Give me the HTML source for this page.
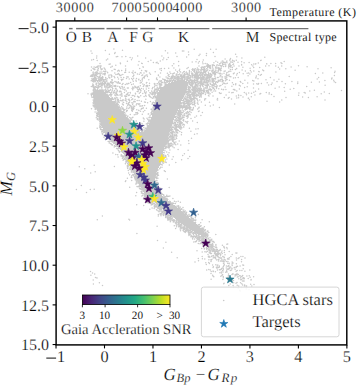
<!DOCTYPE html>
<html><head><meta charset="utf-8"><style>
html,body{margin:0;padding:0;background:#fff;}
svg{display:block;}
text{font-family:"Liberation Serif",serif;fill:#000;stroke:#fff;stroke-width:0.22px;text-rendering:geometricPrecision;}
.sm,.sm text{stroke:none;fill:#1a1a1a;}
</style></head><body>
<svg width="357" height="385" viewBox="0 0 357 385">
<rect width="357" height="385" fill="#fff"/>
<path d="M179 80h6v1h-6zM174 81h13v1h-13zM171 82h17v1h-17zM168 83h20v1h-20zM166 84h22v1h-22zM165 85h23v1h-23zM164 86h23v1h-23zM162 87h25v1h-25zM161 88h26v1h-26zM160 89h27v1h-27zM96 90h7v1h-7zM160 90h26v1h-26zM94 91h10v1h-10zM159 91h27v1h-27zM93 92h12v1h-12zM158 92h27v1h-27zM93 93h13v1h-13zM158 93h27v1h-27zM93 94h14v1h-14zM157 94h27v1h-27zM93 95h15v1h-15zM157 95h27v1h-27zM93 96h16v1h-16zM157 96h27v1h-27zM93 97h17v1h-17zM156 97h27v1h-27zM94 98h17v1h-17zM156 98h27v1h-27zM94 99h18v1h-18zM156 99h26v1h-26zM94 100h18v1h-18zM156 100h26v1h-26zM94 101h19v1h-19zM155 101h26v1h-26zM94 102h20v1h-20zM155 102h26v1h-26zM95 103h20v1h-20zM155 103h25v1h-25zM95 104h21v1h-21zM155 104h25v1h-25zM95 105h22v1h-22zM154 105h26v1h-26zM96 106h22v1h-22zM154 106h25v1h-25zM96 107h23v1h-23zM154 107h25v1h-25zM97 108h22v1h-22zM154 108h24v1h-24zM97 109h23v1h-23zM153 109h25v1h-25zM97 110h24v1h-24zM153 110h24v1h-24zM98 111h24v1h-24zM153 111h24v1h-24zM98 112h25v1h-25zM153 112h24v1h-24zM98 113h26v1h-26zM152 113h24v1h-24zM98 114h27v1h-27zM152 114h24v1h-24zM99 115h27v1h-27zM152 115h23v1h-23zM99 116h27v1h-27zM152 116h23v1h-23zM99 117h28v1h-28zM151 117h24v1h-24zM99 118h29v1h-29zM151 118h23v1h-23zM100 119h29v1h-29zM151 119h23v1h-23zM100 120h30v1h-30zM150 120h23v1h-23zM100 121h31v1h-31zM150 121h23v1h-23zM101 122h31v1h-31zM150 122h23v1h-23zM101 123h32v1h-32zM149 123h23v1h-23zM101 124h33v1h-33zM149 124h23v1h-23zM101 125h34v1h-34zM148 125h23v1h-23zM102 126h34v1h-34zM148 126h23v1h-23zM102 127h34v1h-34zM147 127h24v1h-24zM103 128h34v1h-34zM147 128h23v1h-23zM103 129h35v1h-35zM146 129h24v1h-24zM103 130h36v1h-36zM145 130h25v1h-25zM104 131h36v1h-36zM144 131h26v1h-26zM104 132h65v1h-65zM105 133h64v1h-64zM105 134h64v1h-64zM106 135h63v1h-63zM107 136h61v1h-61zM108 137h60v1h-60zM109 138h59v1h-59zM110 139h58v1h-58zM111 140h56v1h-56zM112 141h55v1h-55zM113 142h54v1h-54zM114 143h52v1h-52zM115 144h51v1h-51zM116 145h49v1h-49zM117 146h48v1h-48zM118 147h46v1h-46zM119 148h45v1h-45zM120 149h44v1h-44zM121 150h43v1h-43zM122 151h41v1h-41zM122 152h41v1h-41zM123 153h40v1h-40zM124 154h39v1h-39zM125 155h38v1h-38zM125 156h38v1h-38zM126 157h36v1h-36zM126 158h36v1h-36zM127 159h35v1h-35zM127 160h35v1h-35zM128 161h33v1h-33zM128 162h33v1h-33zM129 163h31v1h-31zM129 164h31v1h-31zM130 165h30v1h-30zM130 166h29v1h-29zM131 167h28v1h-28zM131 168h27v1h-27zM132 169h26v1h-26zM132 170h25v1h-25zM133 171h24v1h-24zM133 172h23v1h-23zM134 173h22v1h-22zM134 174h22v1h-22zM135 175h20v1h-20zM135 176h20v1h-20zM136 177h19v1h-19zM136 178h19v1h-19zM137 179h18v1h-18zM137 180h18v1h-18zM138 181h17v1h-17zM138 182h17v1h-17zM139 183h16v1h-16zM139 184h16v1h-16zM140 185h16v1h-16zM140 186h16v1h-16zM141 187h15v1h-15zM142 188h15v1h-15zM142 189h15v1h-15zM143 190h15v1h-15zM143 191h16v1h-16zM144 192h16v1h-16zM145 193h15v1h-15zM145 194h16v1h-16zM146 195h16v1h-16zM147 196h16v1h-16zM148 197h16v1h-16zM149 198h16v1h-16zM151 199h16v1h-16zM152 200h16v1h-16zM154 201h15v1h-15zM155 202h16v1h-16zM156 203h16v1h-16zM158 204h15v1h-15zM159 205h16v1h-16zM160 206h16v1h-16zM161 207h16v1h-16zM162 208h16v1h-16zM164 209h15v1h-15zM165 210h16v1h-16zM166 211h16v1h-16zM167 212h16v1h-16zM169 213h15v1h-15zM170 214h15v1h-15zM171 215h15v1h-15zM173 216h15v1h-15zM174 217h15v1h-15zM175 218h15v1h-15zM177 219h14v1h-14zM178 220h14v1h-14zM179 221h14v1h-14zM180 222h15v1h-15zM182 223h14v1h-14zM183 224h14v1h-14zM184 225h14v1h-14zM186 226h13v1h-13zM187 227h13v1h-13zM189 228h12v1h-12zM191 229h11v1h-11zM192 230h11v1h-11zM194 231h10v1h-10zM195 232h9v1h-9zM197 233h8v1h-8zM199 234h7v1h-7zM201 235h5v1h-5zM203 236h3v1h-3z" fill="#c9c9c9"/>
<path d="M113.9 49.1h0M194.2 49.2h0M210.6 49.3h0M216.1 49.2h0M91.0 51.0h0M105.4 50.6h0M122.5 50.2h0M165.4 50.8h0M182.4 50.9h0M183.8 51.1h0M115.1 52.4h0M175.7 52.9h0M188.5 52.1h0M213.4 52.5h0M92.0 53.2h0M114.7 53.5h0M167.7 53.1h0M206.5 53.4h0M109.4 54.2h0M188.7 54.8h0M200.0 54.2h0M235.6 54.3h0M137.7 55.9h0M161.9 55.9h0M199.0 55.6h0M206.4 55.4h0M96.8 56.1h0M116.3 56.8h0M117.7 56.4h0M122.0 56.7h0M125.8 56.5h0M177.0 56.5h0M186.6 57.0h0M215.0 56.6h0M236.8 56.7h0M130.1 57.4h0M168.3 57.6h0M264.8 57.3h0M96.6 58.0h0M132.3 58.1h0M145.6 58.1h0M163.7 58.1h0M230.5 58.6h0M241.9 58.1h0M93.5 59.4h0M107.7 59.0h0M131.5 59.8h0M162.9 59.8h0M166.8 59.4h0M197.0 59.4h0M203.3 59.9h0M225.1 59.0h0M230.1 59.5h0M91.7 60.1h0M97.2 60.5h0M106.4 60.1h0M150.9 60.3h0M160.3 61.0h0M229.9 60.3h0M232.5 60.3h0M232.7 60.5h0M234.1 60.9h0M236.3 60.2h0M260.7 60.5h0M261.1 60.2h0M127.4 61.2h0M139.0 61.6h0M148.2 61.5h0M178.6 61.4h0M196.0 61.7h0M199.3 61.4h0M215.9 61.2h0M222.3 61.1h0M223.1 61.2h0M226.5 61.9h0M226.9 61.1h0M234.2 61.4h0M241.6 61.7h0M284.2 61.4h0M120.3 62.9h0M153.4 62.5h0M156.2 62.8h0M157.1 62.3h0M192.2 62.0h0M202.6 62.1h0M213.9 62.7h0M217.7 62.3h0M221.1 62.3h0M223.6 62.7h0M223.1 62.5h0M224.4 62.6h0M225.0 62.6h0M227.0 62.7h0M230.4 62.0h0M231.2 62.1h0M232.6 62.3h0M238.0 62.3h0M244.1 62.8h0M249.1 62.6h0M281.0 62.8h0M100.0 63.6h0M110.2 64.0h0M120.5 63.7h0M141.7 63.3h0M142.2 63.4h0M158.2 63.5h0M173.8 63.7h0M198.4 63.1h0M203.0 63.8h0M205.2 63.5h0M207.1 63.7h0M219.4 63.9h0M220.2 63.5h0M222.3 63.6h0M225.3 63.1h0M229.5 63.7h0M233.5 63.9h0M253.8 63.9h0M255.5 64.0h0M255.8 63.7h0M258.3 63.1h0M266.7 63.8h0M266.8 64.0h0M270.9 63.5h0M275.6 63.4h0M281.9 63.4h0M109.1 64.2h0M207.3 64.7h0M208.5 64.7h0M212.2 65.0h0M213.1 64.8h0M217.1 64.7h0M222.7 64.5h0M224.1 64.5h0M225.7 64.8h0M228.9 64.4h0M230.1 64.1h0M232.9 64.6h0M241.6 64.5h0M241.6 64.9h0M251.6 64.8h0M115.8 65.2h0M138.2 65.0h0M172.3 65.8h0M178.7 65.7h0M206.5 66.0h0M208.1 65.7h0M209.2 65.8h0M210.3 65.6h0M212.5 65.4h0M213.0 65.4h0M214.4 65.6h0M216.8 65.8h0M217.0 65.7h0M218.8 65.6h0M220.3 65.6h0M222.1 65.7h0M225.8 65.9h0M228.8 65.6h0M230.3 65.3h0M231.2 65.7h0M239.0 65.9h0M252.9 65.9h0M265.6 65.9h0M269.0 65.7h0M298.5 65.8h0M94.1 66.9h0M96.6 67.0h0M97.6 66.2h0M98.6 66.1h0M100.0 66.0h0M100.3 66.1h0M101.1 66.0h0M112.2 66.2h0M112.2 66.6h0M125.5 66.1h0M143.0 66.8h0M199.0 66.1h0M202.6 67.0h0M204.2 66.8h0M205.1 66.7h0M206.5 66.1h0M207.2 66.5h0M207.8 66.5h0M209.7 66.7h0M209.2 66.8h0M215.8 66.9h0M221.4 66.1h0M223.6 66.5h0M225.6 66.6h0M228.6 66.8h0M229.7 66.3h0M230.1 66.6h0M234.0 66.1h0M275.7 66.1h0M281.7 66.1h0M307.1 66.8h0M91.5 67.0h0M95.6 67.5h0M97.2 67.1h0M98.2 68.0h0M100.4 67.6h0M104.1 67.9h0M110.8 67.2h0M143.2 67.2h0M188.2 67.4h0M197.4 68.0h0M201.2 67.4h0M201.8 67.2h0M201.8 67.3h0M203.6 67.3h0M203.5 67.8h0M205.1 67.1h0M207.7 67.7h0M208.0 67.1h0M209.6 67.6h0M210.6 67.0h0M212.5 67.1h0M216.9 68.0h0M216.4 67.9h0M218.1 67.8h0M221.2 67.1h0M228.8 68.0h0M230.6 67.1h0M232.2 67.5h0M232.4 67.5h0M242.9 67.3h0M253.7 67.6h0M259.7 67.6h0M278.4 67.2h0M291.1 67.1h0M331.1 67.7h0M93.0 68.6h0M94.2 69.0h0M98.3 68.4h0M98.3 68.5h0M101.0 68.7h0M102.3 68.9h0M125.7 68.9h0M139.7 68.6h0M161.3 68.4h0M164.5 68.5h0M168.7 68.3h0M173.9 68.0h0M187.0 68.6h0M192.8 68.8h0M195.3 68.7h0M201.5 68.5h0M204.2 68.5h0M204.5 68.6h0M206.6 68.8h0M209.7 68.1h0M210.6 68.6h0M213.0 68.3h0M215.5 68.1h0M218.9 68.1h0M218.5 68.9h0M218.7 68.2h0M219.5 68.6h0M219.6 68.5h0M219.7 68.2h0M221.2 68.4h0M236.7 68.7h0M236.6 68.4h0M250.1 68.3h0M279.6 69.0h0M285.8 68.8h0M318.0 68.7h0M94.1 69.4h0M94.9 69.4h0M97.4 69.9h0M101.2 69.8h0M104.9 69.1h0M105.2 69.7h0M114.2 69.3h0M115.2 69.4h0M159.9 69.1h0M175.6 70.0h0M179.7 69.2h0M192.1 69.6h0M194.5 69.4h0M194.0 69.4h0M197.0 69.4h0M198.5 69.3h0M200.1 69.8h0M201.7 69.3h0M201.6 69.4h0M202.6 69.6h0M203.7 69.6h0M205.0 69.4h0M205.0 69.6h0M213.6 69.9h0M219.6 69.4h0M220.7 69.3h0M230.4 69.6h0M232.3 69.6h0M235.4 69.4h0M242.1 69.9h0M262.7 69.9h0M91.3 70.3h0M97.9 70.4h0M98.0 70.1h0M112.0 70.8h0M117.6 70.9h0M118.7 70.2h0M121.7 70.6h0M125.6 70.6h0M141.6 70.6h0M145.3 70.7h0M161.3 70.6h0M179.3 70.4h0M189.4 70.5h0M192.6 70.2h0M194.7 70.4h0M194.1 70.7h0M194.7 70.2h0M198.1 70.2h0M201.0 70.4h0M203.4 70.1h0M204.2 70.4h0M206.7 71.0h0M206.5 70.7h0M206.6 71.0h0M206.1 70.5h0M207.7 70.1h0M207.8 70.0h0M209.8 70.6h0M211.7 71.0h0M211.7 71.0h0M212.3 70.0h0M212.6 70.6h0M215.9 70.5h0M215.8 70.1h0M218.6 70.5h0M218.2 70.6h0M220.6 70.7h0M220.6 70.3h0M221.0 70.5h0M245.4 70.9h0M250.4 70.6h0M263.7 70.7h0M295.1 70.2h0M96.3 72.0h0M96.8 72.0h0M103.7 71.2h0M104.9 71.8h0M105.9 71.2h0M105.3 71.8h0M119.4 71.1h0M133.1 71.0h0M146.4 71.8h0M146.7 71.0h0M155.2 71.8h0M169.9 72.0h0M177.2 71.4h0M180.5 71.9h0M180.1 71.8h0M183.6 71.9h0M184.3 71.6h0M186.4 71.9h0M189.5 71.4h0M193.9 71.4h0M196.9 71.4h0M196.4 71.1h0M198.9 71.5h0M199.1 71.8h0M201.1 71.3h0M203.9 71.2h0M204.1 71.2h0M204.5 72.0h0M204.9 71.5h0M205.5 71.4h0M205.6 71.9h0M206.6 71.1h0M212.2 72.0h0M214.7 71.6h0M215.8 71.0h0M218.1 71.5h0M224.1 71.2h0M225.2 71.1h0M228.6 71.7h0M229.2 71.2h0M230.8 71.3h0M253.8 71.1h0M258.8 71.4h0M259.2 71.7h0M335.0 71.2h0M92.9 72.9h0M93.2 72.1h0M95.2 72.4h0M95.2 72.9h0M96.1 72.5h0M97.6 72.3h0M100.1 72.1h0M101.9 72.1h0M107.7 72.7h0M107.5 72.3h0M114.8 72.9h0M124.8 72.5h0M125.6 72.2h0M129.2 72.3h0M132.1 72.4h0M135.0 72.6h0M135.4 72.5h0M140.4 72.8h0M144.0 72.9h0M149.5 72.9h0M177.7 72.3h0M186.1 72.5h0M189.3 72.7h0M191.4 72.1h0M194.7 72.2h0M194.8 72.3h0M197.0 72.4h0M196.4 72.0h0M197.1 72.9h0M197.2 72.3h0M197.6 72.9h0M198.7 72.5h0M200.5 72.2h0M200.7 72.9h0M200.3 72.8h0M201.5 72.6h0M202.4 72.9h0M204.0 72.6h0M203.4 72.1h0M203.6 73.0h0M204.0 72.2h0M205.5 73.0h0M205.5 72.7h0M208.4 72.3h0M213.4 72.0h0M213.3 72.9h0M213.1 72.2h0M213.2 72.8h0M214.4 72.5h0M214.8 73.0h0M216.4 72.6h0M217.8 72.7h0M227.1 72.6h0M239.4 72.4h0M251.2 72.0h0M275.9 72.1h0M322.8 72.9h0M334.6 72.4h0M93.7 73.3h0M96.7 73.5h0M98.1 73.6h0M99.2 73.4h0M101.1 73.4h0M104.3 73.5h0M105.3 73.4h0M118.5 73.5h0M133.1 73.2h0M137.4 73.9h0M141.1 73.1h0M160.5 73.0h0M167.4 73.2h0M170.8 73.6h0M172.6 73.9h0M173.5 73.6h0M174.4 73.1h0M182.4 73.1h0M184.4 73.4h0M186.6 73.9h0M187.6 73.2h0M189.3 74.0h0M191.6 73.8h0M192.6 73.2h0M192.7 73.5h0M195.4 73.5h0M196.5 73.2h0M196.2 73.3h0M196.7 73.4h0M197.7 73.3h0M197.6 73.6h0M200.4 73.1h0M200.6 73.8h0M200.9 73.9h0M200.2 73.7h0M202.4 73.2h0M208.8 73.7h0M208.6 73.7h0M210.3 73.5h0M210.9 73.9h0M212.9 73.5h0M213.8 73.4h0M213.7 73.2h0M215.5 73.0h0M219.2 73.4h0M219.4 73.6h0M220.5 73.2h0M222.0 73.9h0M224.0 73.3h0M226.6 73.0h0M233.4 73.7h0M234.2 73.1h0M237.3 73.6h0M243.2 73.7h0M247.1 73.2h0M248.6 73.1h0M315.4 73.4h0M92.3 74.8h0M93.5 74.5h0M95.8 74.7h0M95.3 74.9h0M95.2 74.4h0M95.4 74.6h0M97.0 74.4h0M100.2 74.2h0M102.8 74.1h0M103.3 74.0h0M105.0 74.8h0M104.6 74.7h0M104.8 74.7h0M109.1 75.0h0M111.0 74.7h0M115.9 74.4h0M117.4 74.2h0M119.4 74.4h0M119.1 74.6h0M122.8 74.6h0M133.8 75.0h0M139.3 74.2h0M146.3 75.0h0M150.5 74.2h0M158.4 75.0h0M168.4 74.9h0M168.9 74.4h0M177.0 74.1h0M176.2 74.2h0M178.5 74.8h0M179.6 74.1h0M181.9 74.8h0M184.1 74.6h0M185.3 74.3h0M187.0 74.8h0M187.7 74.4h0M188.1 74.9h0M192.5 74.2h0M192.2 74.7h0M193.3 75.0h0M195.0 74.5h0M196.8 74.4h0M196.2 74.2h0M197.5 74.9h0M199.2 74.8h0M199.7 74.3h0M200.1 74.3h0M201.7 75.0h0M202.8 74.3h0M204.9 74.8h0M204.3 74.5h0M205.7 74.9h0M206.1 74.0h0M206.4 74.5h0M207.1 74.7h0M207.8 75.0h0M208.3 74.5h0M208.0 75.0h0M209.8 74.9h0M209.3 75.0h0M210.4 74.7h0M210.1 74.8h0M210.9 74.3h0M211.2 74.6h0M211.8 74.7h0M214.8 74.9h0M214.5 74.6h0M214.8 74.1h0M215.5 74.5h0M220.2 74.9h0M226.3 74.6h0M229.0 74.6h0M236.6 75.0h0M249.9 74.1h0M258.4 74.4h0M261.4 74.4h0M91.3 75.2h0M93.1 75.1h0M94.0 75.1h0M94.4 75.6h0M95.3 75.6h0M96.3 75.6h0M100.5 75.8h0M111.3 75.5h0M112.0 76.0h0M120.6 75.4h0M120.0 75.4h0M121.2 75.1h0M133.7 75.5h0M141.9 75.6h0M142.7 75.1h0M145.1 75.9h0M145.0 75.9h0M147.1 75.1h0M158.4 75.4h0M168.2 75.7h0M172.1 75.9h0M173.1 75.4h0M177.0 75.3h0M180.6 75.0h0M180.4 76.0h0M182.2 76.0h0M183.7 75.2h0M184.9 75.2h0M188.1 75.3h0M188.0 75.1h0M189.2 75.1h0M190.0 75.7h0M190.8 75.7h0M192.8 75.1h0M192.4 75.5h0M192.6 75.8h0M194.1 75.5h0M194.4 75.0h0M195.4 75.6h0M195.7 75.0h0M196.2 75.8h0M197.4 75.9h0M197.1 75.6h0M198.7 75.8h0M198.9 75.5h0M199.0 75.0h0M200.4 75.6h0M202.5 75.7h0M204.4 75.4h0M206.9 75.9h0M207.7 75.4h0M207.6 75.4h0M208.1 75.8h0M209.4 75.5h0M209.1 75.1h0M211.8 75.4h0M220.7 75.6h0M226.5 75.8h0M227.6 75.2h0M228.8 75.7h0M248.1 75.7h0M256.4 76.0h0M260.3 75.3h0M334.4 75.5h0M90.5 76.3h0M91.8 76.5h0M92.4 76.0h0M92.5 76.4h0M93.0 76.4h0M93.0 76.4h0M94.8 76.2h0M96.7 76.1h0M97.7 76.7h0M99.7 77.0h0M99.6 76.2h0M99.4 76.4h0M102.5 76.6h0M108.8 76.1h0M114.1 76.5h0M127.0 76.8h0M127.0 77.0h0M132.9 76.6h0M144.5 76.6h0M147.4 76.6h0M166.1 77.0h0M169.3 76.5h0M171.3 76.8h0M174.0 76.8h0M174.7 76.6h0M175.9 76.0h0M177.3 76.6h0M178.3 76.4h0M180.0 76.3h0M181.1 77.0h0M181.6 76.2h0M181.3 76.2h0M182.9 76.8h0M183.3 76.0h0M183.1 76.9h0M184.3 76.6h0M185.0 76.9h0M185.8 77.0h0M186.9 76.8h0M186.9 76.7h0M188.0 76.4h0M187.9 76.5h0M188.8 76.9h0M190.9 76.5h0M192.5 76.4h0M194.8 76.4h0M195.4 76.8h0M196.1 76.8h0M197.1 76.6h0M197.3 76.5h0M198.3 76.2h0M198.6 76.3h0M200.6 76.2h0M202.8 76.6h0M202.0 76.9h0M203.8 76.5h0M203.1 76.2h0M205.9 76.0h0M208.1 76.9h0M208.4 77.0h0M209.4 76.0h0M210.6 76.6h0M210.5 76.2h0M211.2 76.7h0M214.9 76.3h0M220.0 76.7h0M222.0 76.7h0M221.9 76.9h0M225.1 76.5h0M230.9 76.7h0M230.0 76.6h0M289.2 76.6h0M94.7 77.1h0M94.4 77.4h0M95.9 77.8h0M95.4 77.6h0M98.7 77.2h0M99.9 78.0h0M100.5 77.9h0M102.0 77.9h0M103.0 77.2h0M105.7 77.5h0M109.0 77.4h0M111.5 77.0h0M114.8 77.8h0M117.7 77.3h0M121.1 77.5h0M123.7 77.6h0M128.2 77.1h0M143.6 77.6h0M144.4 77.9h0M156.7 77.9h0M159.9 77.1h0M172.8 77.9h0M172.3 77.0h0M173.1 77.0h0M174.5 77.3h0M175.5 77.7h0M176.8 77.5h0M178.4 77.8h0M179.2 77.5h0M182.1 77.4h0M183.3 77.6h0M183.0 77.8h0M183.7 77.4h0M184.6 77.3h0M184.6 77.0h0M184.2 77.8h0M187.7 77.1h0M190.8 77.2h0M192.3 77.8h0M194.0 77.2h0M195.2 77.8h0M196.2 77.1h0M196.5 77.4h0M197.6 77.3h0M198.2 77.1h0M198.4 77.8h0M198.9 77.5h0M199.9 77.5h0M199.7 77.7h0M200.7 77.9h0M201.0 78.0h0M201.6 77.4h0M202.1 77.1h0M202.3 77.9h0M203.5 77.3h0M204.2 77.0h0M204.8 77.9h0M206.5 77.7h0M207.3 77.7h0M207.5 77.1h0M208.1 77.2h0M209.4 77.3h0M210.7 77.7h0M211.1 77.1h0M215.6 77.9h0M217.5 77.6h0M218.2 77.4h0M222.5 77.1h0M225.0 77.9h0M226.0 78.0h0M226.9 77.1h0M235.4 77.7h0M238.2 77.6h0M255.9 77.2h0M270.4 77.4h0M318.6 77.4h0M91.9 78.7h0M93.6 78.7h0M93.0 78.9h0M93.9 78.8h0M94.9 78.5h0M96.4 78.7h0M98.2 78.6h0M100.0 79.0h0M101.7 78.0h0M101.9 78.1h0M101.5 78.1h0M101.4 78.1h0M102.2 78.0h0M102.5 78.4h0M105.8 78.9h0M107.2 78.8h0M109.8 78.1h0M126.5 78.5h0M129.2 78.9h0M131.7 78.5h0M133.6 78.3h0M136.5 78.5h0M142.4 78.3h0M167.2 78.3h0M167.8 78.0h0M168.6 78.5h0M170.8 78.1h0M170.2 78.5h0M171.0 78.2h0M171.7 78.1h0M171.9 78.3h0M172.0 78.3h0M174.6 78.4h0M175.7 78.5h0M177.0 78.3h0M177.3 78.4h0M177.6 78.6h0M177.2 78.7h0M177.6 79.0h0M178.6 78.6h0M179.8 78.9h0M180.8 79.0h0M181.1 78.3h0M181.5 78.2h0M182.4 78.4h0M184.9 78.5h0M185.4 79.0h0M188.0 78.9h0M187.0 78.1h0M188.4 78.6h0M189.6 78.1h0M189.9 78.5h0M190.5 79.0h0M194.1 78.1h0M196.9 78.6h0M196.7 78.9h0M196.1 78.4h0M197.3 78.7h0M197.6 78.6h0M198.9 78.3h0M200.0 78.0h0M200.6 78.2h0M201.1 78.7h0M203.4 78.8h0M203.8 78.1h0M203.0 78.0h0M205.8 78.1h0M206.0 78.0h0M206.9 78.6h0M207.6 78.3h0M209.0 78.3h0M209.3 78.0h0M209.3 79.0h0M212.1 78.4h0M212.6 78.9h0M212.5 78.5h0M214.0 78.6h0M214.6 78.5h0M215.1 78.8h0M222.0 78.9h0M225.7 78.6h0M233.5 78.1h0M255.9 78.0h0M258.0 78.8h0M331.7 78.9h0M331.8 78.6h0M332.0 78.0h0M92.4 79.8h0M92.3 79.2h0M94.1 79.6h0M95.8 79.7h0M96.0 79.1h0M99.3 79.6h0M100.7 79.5h0M101.2 79.1h0M101.8 79.6h0M102.8 79.5h0M103.5 79.6h0M104.6 79.8h0M106.0 79.9h0M111.8 79.8h0M111.8 79.8h0M112.2 79.7h0M118.5 79.0h0M121.7 79.8h0M121.3 79.5h0M123.0 79.3h0M132.6 79.8h0M138.9 79.3h0M138.7 79.8h0M142.2 79.6h0M148.8 79.7h0M156.5 79.1h0M157.3 79.8h0M162.7 79.1h0M163.9 79.4h0M165.0 79.5h0M165.1 79.9h0M171.7 79.9h0M173.4 79.2h0M173.6 79.5h0M176.9 79.5h0M177.2 79.9h0M178.2 80.0h0M178.7 79.3h0M178.4 79.2h0M179.9 79.0h0M180.3 79.1h0M181.8 79.5h0M182.9 79.2h0M184.6 79.5h0M186.7 79.1h0M186.9 79.2h0M187.3 79.4h0M190.0 79.7h0M191.9 79.9h0M194.5 79.7h0M194.3 79.8h0M194.4 79.9h0M198.2 79.0h0M200.8 79.7h0M200.7 79.2h0M201.4 79.8h0M202.5 79.9h0M202.5 79.8h0M202.4 79.2h0M203.5 79.7h0M204.4 79.8h0M205.8 79.6h0M206.6 79.3h0M207.6 79.9h0M209.1 80.0h0M209.8 79.6h0M209.8 79.4h0M211.9 79.8h0M213.6 79.3h0M213.5 79.8h0M215.6 79.1h0M220.7 79.4h0M222.4 79.8h0M226.0 80.0h0M226.8 79.5h0M227.1 79.6h0M266.0 79.7h0M274.0 79.9h0M278.9 79.2h0M317.2 79.1h0M91.2 80.7h0M92.2 80.1h0M93.5 80.4h0M93.9 80.7h0M93.5 80.2h0M93.0 80.4h0M94.0 80.8h0M94.6 80.4h0M94.2 80.6h0M94.5 80.1h0M95.1 80.4h0M95.5 80.9h0M96.9 80.6h0M96.3 80.0h0M97.9 80.8h0M98.0 80.8h0M98.3 80.6h0M98.4 80.5h0M99.1 80.0h0M99.1 80.2h0M99.6 80.0h0M101.3 80.7h0M102.7 80.1h0M103.3 80.0h0M103.6 80.8h0M104.4 80.1h0M107.0 80.9h0M112.2 80.8h0M121.7 80.6h0M135.9 80.2h0M140.4 80.8h0M159.4 80.9h0M161.4 80.8h0M164.7 80.4h0M165.6 80.3h0M166.5 80.8h0M167.5 80.3h0M168.2 80.9h0M169.7 80.5h0M169.8 80.5h0M169.4 80.0h0M170.6 81.0h0M170.5 80.2h0M171.2 80.1h0M173.0 80.6h0M174.6 80.6h0M174.2 80.5h0M175.7 80.3h0M175.4 81.0h0M177.6 80.6h0M178.5 80.2h0M178.6 80.0h0M178.6 80.1h0M178.6 80.3h0M186.6 80.3h0M187.5 80.5h0M187.2 80.1h0M188.2 80.5h0M189.9 80.7h0M189.7 80.1h0M191.1 80.7h0M191.2 80.3h0M192.7 80.4h0M192.2 80.7h0M194.1 80.4h0M195.3 80.3h0M195.9 80.5h0M196.7 80.6h0M197.6 80.0h0M197.7 80.9h0M201.3 80.9h0M206.0 81.0h0M206.4 80.1h0M206.4 80.6h0M207.6 80.4h0M207.3 80.6h0M208.8 80.8h0M208.1 80.8h0M209.1 80.1h0M212.3 80.2h0M213.3 80.4h0M218.4 80.5h0M218.2 80.2h0M219.2 80.2h0M220.6 80.9h0M223.3 80.7h0M225.4 80.8h0M229.5 80.2h0M244.9 80.3h0M252.7 80.4h0M253.9 80.9h0M324.9 80.6h0M333.7 80.3h0M92.8 81.6h0M93.4 81.2h0M93.2 81.5h0M95.5 81.3h0M95.0 81.1h0M98.0 81.3h0M97.7 81.7h0M99.7 81.6h0M99.8 81.4h0M100.3 81.0h0M103.6 81.2h0M103.8 81.4h0M104.2 81.5h0M105.9 81.8h0M110.8 81.8h0M114.9 81.5h0M118.3 81.8h0M133.3 81.2h0M136.2 81.3h0M142.2 81.0h0M160.6 81.1h0M160.9 81.8h0M164.5 81.8h0M166.5 81.7h0M167.6 81.8h0M167.3 81.2h0M168.5 81.4h0M169.1 81.6h0M169.4 81.4h0M170.5 81.3h0M172.2 81.6h0M172.3 81.9h0M172.8 82.0h0M189.0 81.4h0M188.5 81.5h0M189.3 81.8h0M191.7 81.9h0M192.9 81.2h0M193.1 81.3h0M194.0 81.0h0M194.7 81.4h0M198.0 81.5h0M197.7 81.3h0M197.9 81.9h0M197.5 81.3h0M199.3 82.0h0M200.4 81.1h0M202.1 81.9h0M203.3 82.0h0M204.6 81.1h0M206.0 81.3h0M208.3 82.0h0M209.1 81.2h0M210.4 81.1h0M212.1 81.3h0M213.5 81.7h0M214.7 81.0h0M216.5 81.8h0M217.8 82.0h0M218.5 81.4h0M219.2 81.1h0M222.4 81.0h0M222.2 81.8h0M222.7 81.3h0M240.3 81.4h0M277.0 81.4h0M282.0 81.6h0M291.9 81.4h0M297.8 81.9h0M319.4 82.0h0M334.2 81.8h0M93.9 82.1h0M100.9 82.7h0M102.4 82.0h0M102.5 82.9h0M102.6 82.8h0M104.6 82.8h0M104.9 82.2h0M105.7 82.1h0M107.7 82.9h0M110.5 82.4h0M111.5 82.2h0M112.3 82.7h0M113.2 82.4h0M116.2 82.0h0M118.0 82.7h0M118.6 82.8h0M130.6 82.6h0M140.2 82.9h0M141.3 82.6h0M146.8 82.5h0M158.6 82.2h0M159.0 83.0h0M161.9 82.5h0M162.7 82.4h0M162.6 82.6h0M164.3 83.0h0M165.4 82.8h0M167.1 82.6h0M169.5 82.3h0M188.6 82.8h0M189.9 82.4h0M189.7 82.9h0M191.1 82.2h0M192.7 82.8h0M193.1 82.3h0M194.7 82.3h0M194.5 82.4h0M195.7 82.9h0M195.8 82.7h0M196.0 82.5h0M196.3 82.2h0M196.9 82.3h0M200.4 82.2h0M200.7 82.9h0M201.6 82.3h0M203.5 82.5h0M203.7 82.1h0M203.4 82.3h0M204.5 82.2h0M205.5 82.6h0M206.7 82.4h0M206.7 82.9h0M206.2 82.8h0M206.8 82.2h0M207.4 82.9h0M207.8 82.1h0M212.6 82.1h0M212.1 82.0h0M215.7 82.2h0M217.5 82.4h0M223.5 82.9h0M232.4 82.8h0M240.9 82.2h0M267.2 82.7h0M311.4 82.3h0M335.6 82.4h0M96.1 83.1h0M96.7 83.4h0M98.5 83.1h0M99.3 83.8h0M100.3 83.8h0M100.7 83.4h0M101.5 83.6h0M101.3 83.6h0M102.4 83.8h0M102.1 83.6h0M102.1 83.6h0M102.1 83.6h0M103.9 83.6h0M103.6 83.8h0M103.3 83.8h0M104.9 83.5h0M105.8 83.3h0M107.6 83.4h0M107.6 83.9h0M107.8 83.3h0M108.8 83.8h0M108.9 83.2h0M111.4 83.1h0M112.7 83.9h0M117.3 83.1h0M119.3 83.2h0M120.2 83.2h0M123.0 83.5h0M126.9 83.4h0M128.5 83.6h0M128.8 83.4h0M142.8 83.9h0M146.4 83.1h0M149.5 83.3h0M154.8 83.6h0M154.3 83.7h0M157.3 83.7h0M157.1 83.7h0M159.5 83.5h0M159.3 83.7h0M161.0 83.4h0M166.0 83.7h0M188.8 83.1h0M189.5 83.3h0M191.8 83.2h0M193.0 83.1h0M192.9 83.2h0M193.4 83.7h0M195.6 83.8h0M195.2 83.7h0M195.5 83.9h0M197.9 83.5h0M198.9 83.3h0M199.5 83.1h0M200.8 83.3h0M200.2 83.3h0M200.7 83.1h0M201.3 83.2h0M201.1 83.4h0M202.3 83.5h0M203.0 83.5h0M203.4 83.2h0M203.3 84.0h0M210.0 83.1h0M210.2 83.4h0M213.5 83.3h0M214.7 83.9h0M215.6 83.3h0M224.4 83.4h0M224.3 83.6h0M225.9 83.8h0M227.3 83.2h0M235.8 83.8h0M242.8 83.6h0M247.7 83.1h0M253.5 83.9h0M256.8 83.8h0M258.6 83.4h0M261.4 83.5h0M272.1 83.1h0M285.4 83.8h0M297.7 83.4h0M92.8 84.0h0M93.1 84.6h0M96.0 84.3h0M98.7 85.0h0M99.6 84.2h0M99.7 84.6h0M100.8 84.0h0M101.8 84.8h0M102.3 84.8h0M104.6 84.4h0M106.7 84.9h0M106.7 84.8h0M107.1 84.2h0M107.0 84.3h0M108.7 84.9h0M108.2 84.7h0M108.8 84.1h0M109.7 84.3h0M109.3 84.2h0M110.1 84.9h0M122.2 84.5h0M125.3 84.6h0M127.0 84.3h0M131.6 84.5h0M133.4 84.1h0M144.3 84.7h0M154.9 84.7h0M154.4 84.1h0M159.3 84.4h0M159.2 84.8h0M160.0 84.6h0M160.8 84.7h0M161.7 84.8h0M165.6 84.5h0M165.4 84.4h0M189.1 84.0h0M189.9 84.3h0M189.3 84.3h0M190.7 84.1h0M191.8 84.4h0M192.5 84.4h0M195.6 84.6h0M195.2 84.9h0M195.7 84.5h0M196.3 84.1h0M196.0 84.9h0M197.5 84.7h0M197.7 84.7h0M198.9 84.9h0M200.9 85.0h0M200.7 84.1h0M202.8 84.3h0M202.7 84.5h0M202.1 84.2h0M203.4 84.6h0M204.9 84.1h0M207.6 84.7h0M207.1 84.6h0M208.7 84.9h0M208.2 84.2h0M210.6 84.3h0M212.1 84.4h0M213.6 84.1h0M214.5 84.2h0M216.1 84.4h0M222.5 84.2h0M233.5 84.6h0M235.7 84.7h0M258.1 84.2h0M268.7 84.9h0M271.3 84.5h0M92.7 85.2h0M93.6 85.3h0M96.9 85.3h0M98.4 85.7h0M101.0 85.7h0M101.8 85.5h0M101.7 85.7h0M102.1 85.7h0M102.3 85.7h0M105.0 85.3h0M104.6 85.2h0M104.1 85.1h0M107.6 85.3h0M109.4 85.2h0M110.7 86.0h0M111.8 85.4h0M114.6 85.7h0M115.7 85.6h0M140.3 85.7h0M146.1 85.9h0M146.3 85.4h0M147.6 85.6h0M149.4 85.5h0M155.1 85.5h0M156.8 85.4h0M160.0 85.9h0M160.6 85.9h0M160.5 85.9h0M161.7 85.0h0M165.0 85.7h0M164.9 85.1h0M190.5 85.6h0M191.1 85.8h0M192.0 85.9h0M192.4 85.0h0M195.6 85.9h0M195.3 85.5h0M196.9 85.4h0M197.0 85.0h0M198.9 85.1h0M200.3 85.5h0M200.1 85.9h0M200.3 85.3h0M200.4 85.8h0M202.4 85.8h0M202.7 85.3h0M205.4 85.5h0M205.9 85.8h0M205.1 85.2h0M205.4 85.2h0M206.4 85.6h0M206.5 85.8h0M206.5 85.9h0M207.9 85.6h0M211.9 85.8h0M212.9 85.6h0M214.2 85.0h0M217.1 85.7h0M220.8 85.6h0M239.3 85.3h0M240.4 86.0h0M325.1 85.2h0M91.3 86.6h0M92.6 86.3h0M93.2 86.6h0M94.4 86.9h0M95.8 86.8h0M95.1 86.9h0M95.2 86.8h0M95.8 86.5h0M97.9 86.7h0M98.7 86.8h0M99.8 86.6h0M100.5 86.5h0M104.9 86.3h0M104.8 86.5h0M105.6 87.0h0M106.3 86.9h0M106.9 86.2h0M107.0 86.9h0M109.8 86.5h0M109.0 86.9h0M113.8 86.1h0M114.9 86.4h0M115.9 86.8h0M117.8 86.2h0M119.6 86.7h0M119.8 86.9h0M121.9 86.5h0M122.4 86.8h0M134.8 86.2h0M134.9 86.9h0M138.2 86.5h0M143.3 86.5h0M143.6 86.0h0M146.2 86.7h0M147.6 86.4h0M154.4 86.9h0M154.5 86.8h0M159.7 86.9h0M163.8 87.0h0M188.4 86.2h0M189.3 86.9h0M192.9 86.3h0M192.7 86.5h0M192.2 86.5h0M192.3 86.5h0M194.7 86.6h0M194.6 86.6h0M196.0 86.4h0M195.7 86.4h0M197.8 86.6h0M200.3 86.2h0M200.4 86.9h0M203.1 86.5h0M207.4 86.7h0M207.0 86.2h0M209.7 87.0h0M210.0 86.6h0M212.1 86.9h0M214.2 86.3h0M215.8 86.4h0M217.0 86.6h0M219.5 86.0h0M225.1 86.9h0M231.9 86.2h0M247.2 86.8h0M279.2 86.9h0M306.7 86.4h0M93.5 87.4h0M93.8 87.5h0M93.2 87.3h0M94.9 87.2h0M94.6 87.9h0M94.2 87.6h0M96.1 87.3h0M96.8 87.2h0M97.7 87.2h0M98.9 87.3h0M98.1 87.9h0M101.8 87.4h0M104.6 87.0h0M108.3 87.3h0M108.4 87.7h0M108.1 87.6h0M109.2 87.5h0M111.1 87.3h0M112.4 87.1h0M119.7 87.5h0M124.3 87.2h0M133.0 87.8h0M132.8 87.0h0M135.8 87.1h0M135.8 87.6h0M137.3 87.6h0M138.6 87.0h0M152.8 87.4h0M157.3 87.2h0M160.3 87.7h0M160.6 87.9h0M160.1 87.9h0M160.7 87.7h0M161.4 87.7h0M161.7 87.5h0M187.9 87.1h0M188.4 88.0h0M189.9 87.6h0M189.8 87.0h0M190.7 87.9h0M192.8 87.8h0M193.3 87.9h0M193.5 87.3h0M193.3 87.6h0M194.9 87.4h0M194.3 87.7h0M195.0 87.7h0M195.0 88.0h0M195.8 87.2h0M196.1 87.1h0M197.8 87.9h0M198.2 88.0h0M199.8 87.9h0M204.0 88.0h0M205.7 87.7h0M205.4 88.0h0M206.5 87.9h0M207.4 87.9h0M213.1 87.7h0M216.5 87.4h0M244.6 87.6h0M284.2 87.6h0M94.0 88.6h0M93.8 88.0h0M94.8 88.7h0M95.2 89.0h0M97.8 88.5h0M97.6 88.0h0M107.4 88.9h0M112.8 88.5h0M115.6 88.7h0M115.4 88.8h0M120.6 88.5h0M120.9 88.2h0M122.9 88.1h0M127.4 88.1h0M128.3 88.1h0M132.1 88.6h0M133.8 88.3h0M137.1 88.2h0M139.4 88.3h0M141.5 88.4h0M143.4 88.9h0M146.3 89.0h0M148.8 88.3h0M152.2 88.8h0M157.1 88.6h0M158.8 88.3h0M158.9 88.4h0M160.6 88.4h0M160.5 88.6h0M188.6 88.9h0M189.2 88.1h0M192.8 89.0h0M193.8 88.0h0M194.6 88.4h0M196.5 88.5h0M196.8 88.2h0M198.0 88.3h0M199.0 88.8h0M201.2 88.4h0M201.4 88.9h0M203.9 88.6h0M210.1 88.7h0M213.8 88.6h0M213.0 88.3h0M213.8 88.1h0M213.0 88.2h0M216.5 88.6h0M218.8 88.7h0M253.5 88.1h0M275.1 88.2h0M293.8 88.5h0M93.6 89.3h0M94.0 89.7h0M93.9 89.0h0M93.2 90.0h0M95.8 89.6h0M97.6 89.4h0M100.0 89.6h0M101.9 89.0h0M101.9 89.8h0M102.4 89.9h0M102.5 90.0h0M105.7 89.1h0M105.5 89.9h0M110.6 89.4h0M112.6 89.1h0M116.3 89.0h0M123.1 89.2h0M125.0 89.2h0M132.8 89.8h0M137.8 89.5h0M140.0 89.6h0M139.4 89.2h0M140.3 89.7h0M154.8 89.1h0M155.3 89.8h0M155.8 89.2h0M157.0 89.1h0M156.9 89.5h0M158.6 89.1h0M187.1 89.4h0M188.6 89.6h0M188.8 89.4h0M189.3 89.9h0M189.7 89.7h0M189.4 89.3h0M191.6 89.8h0M192.0 89.6h0M192.9 89.4h0M193.7 89.7h0M193.2 89.4h0M194.1 89.3h0M195.6 89.0h0M195.6 89.2h0M197.8 89.8h0M197.2 89.7h0M197.4 89.8h0M198.2 90.0h0M199.4 89.9h0M199.2 89.5h0M200.6 89.2h0M200.6 90.0h0M203.4 89.8h0M203.8 89.7h0M204.1 89.9h0M209.0 89.2h0M209.3 89.7h0M210.6 89.2h0M211.7 89.7h0M214.5 89.5h0M221.6 89.2h0M223.6 89.6h0M223.2 89.7h0M225.9 89.6h0M233.4 89.5h0M234.7 89.6h0M239.4 89.1h0M258.6 89.1h0M290.2 89.2h0M93.3 90.4h0M94.9 90.4h0M94.6 90.2h0M95.6 91.0h0M103.6 91.0h0M104.0 90.1h0M105.3 90.1h0M106.7 90.9h0M106.5 90.7h0M108.6 90.8h0M108.5 90.8h0M108.4 90.3h0M109.6 90.5h0M110.1 90.3h0M112.2 90.5h0M114.5 90.5h0M117.3 90.2h0M117.4 90.9h0M120.0 90.9h0M124.7 90.1h0M138.5 90.0h0M141.0 90.7h0M144.6 90.8h0M148.6 90.7h0M151.7 91.0h0M154.3 90.5h0M154.9 90.6h0M157.0 90.5h0M158.2 90.1h0M159.9 90.8h0M159.3 90.5h0M159.8 90.8h0M186.5 90.9h0M188.3 90.9h0M189.4 90.9h0M190.2 90.6h0M190.1 90.4h0M192.8 90.4h0M192.8 90.7h0M192.3 90.1h0M192.2 90.1h0M195.0 90.0h0M194.3 90.6h0M195.6 90.5h0M195.8 90.3h0M196.2 90.7h0M197.9 90.7h0M199.4 90.1h0M199.7 90.2h0M199.0 90.0h0M200.1 90.2h0M200.9 90.1h0M201.3 90.8h0M202.3 90.4h0M203.9 91.0h0M203.3 90.5h0M204.6 90.1h0M206.3 90.4h0M207.1 90.3h0M208.2 90.2h0M210.8 90.8h0M210.8 90.8h0M213.9 91.0h0M234.9 90.3h0M314.4 90.3h0M341.5 90.4h0M93.5 91.8h0M105.4 91.8h0M106.1 91.2h0M107.0 91.5h0M107.2 91.3h0M108.0 92.0h0M116.8 91.2h0M117.0 91.3h0M119.8 91.2h0M119.4 91.7h0M121.0 91.4h0M126.3 91.1h0M137.2 91.4h0M138.1 91.4h0M152.0 92.0h0M154.7 91.6h0M154.1 91.9h0M156.7 91.3h0M157.2 91.4h0M157.4 92.0h0M186.5 91.8h0M187.4 91.7h0M187.9 92.0h0M188.3 91.9h0M188.8 92.0h0M189.6 91.8h0M190.8 91.5h0M190.8 91.8h0M193.3 91.5h0M193.7 91.9h0M193.1 91.3h0M194.9 91.5h0M195.4 91.7h0M196.2 91.5h0M197.4 91.2h0M197.7 91.1h0M199.1 91.1h0M199.7 91.2h0M203.8 91.6h0M204.4 91.5h0M206.6 91.5h0M207.5 91.9h0M208.4 91.8h0M215.6 91.1h0M236.8 91.0h0M255.5 91.3h0M284.7 91.2h0M309.8 91.1h0M324.3 91.9h0M105.5 92.8h0M106.5 92.3h0M106.6 92.5h0M106.1 92.5h0M107.3 92.6h0M109.4 92.2h0M109.1 92.1h0M110.6 92.9h0M111.4 92.5h0M111.6 92.1h0M113.3 92.0h0M114.7 92.7h0M114.9 92.1h0M116.6 92.7h0M121.2 93.0h0M124.4 92.4h0M128.1 92.7h0M130.4 92.9h0M130.2 92.6h0M140.4 92.2h0M144.5 92.1h0M146.4 92.0h0M149.9 92.8h0M153.5 92.2h0M154.7 92.7h0M155.9 92.9h0M155.3 92.3h0M156.1 92.8h0M185.0 92.5h0M185.4 92.9h0M185.1 92.1h0M186.1 92.2h0M186.3 92.5h0M189.0 92.7h0M190.6 92.4h0M190.5 92.2h0M191.8 92.9h0M192.8 92.8h0M192.8 92.4h0M193.3 92.1h0M193.3 92.9h0M194.1 92.2h0M195.4 92.5h0M195.2 92.8h0M196.2 92.1h0M197.7 92.1h0M198.5 92.9h0M199.4 92.1h0M200.8 92.1h0M200.8 92.1h0M201.6 92.5h0M203.3 92.0h0M204.7 92.1h0M207.8 92.5h0M208.8 92.6h0M212.1 92.3h0M219.4 92.7h0M229.1 92.3h0M231.8 92.8h0M233.1 92.5h0M244.3 92.5h0M248.7 93.0h0M253.8 92.3h0M266.3 92.6h0M269.2 92.7h0M298.9 92.9h0M304.2 92.4h0M305.3 92.9h0M88.0 93.8h0M92.2 93.2h0M92.2 93.1h0M92.7 93.8h0M107.0 93.1h0M110.6 93.1h0M113.4 93.1h0M115.8 93.3h0M116.7 94.0h0M135.5 93.9h0M135.4 93.3h0M139.3 93.3h0M142.8 93.6h0M145.3 93.1h0M145.8 93.7h0M150.5 93.1h0M153.0 93.6h0M152.7 93.2h0M157.7 93.7h0M157.3 93.2h0M187.8 93.3h0M187.0 93.3h0M192.0 93.8h0M193.9 93.7h0M193.1 94.0h0M193.9 93.5h0M195.2 93.6h0M196.3 94.0h0M198.3 93.6h0M199.8 93.5h0M200.5 93.7h0M201.9 93.8h0M202.4 93.6h0M203.5 93.6h0M205.9 93.1h0M207.7 93.1h0M208.5 93.3h0M210.1 93.8h0M220.1 93.4h0M221.1 93.3h0M246.1 93.2h0M251.5 93.2h0M259.9 94.0h0M260.7 93.6h0M269.1 93.9h0M321.2 93.7h0M329.3 93.6h0M91.0 94.0h0M91.7 94.2h0M91.4 94.8h0M92.5 94.3h0M107.5 94.7h0M110.5 94.5h0M110.2 94.5h0M111.7 94.7h0M111.8 94.2h0M114.7 94.9h0M116.1 94.8h0M117.5 95.0h0M119.9 94.9h0M120.9 94.7h0M122.0 94.0h0M126.4 94.4h0M127.5 94.1h0M127.3 94.1h0M148.6 94.9h0M151.3 94.1h0M152.3 94.1h0M152.6 94.6h0M152.4 94.8h0M154.0 94.1h0M155.4 94.0h0M184.3 94.4h0M186.9 94.6h0M186.7 94.8h0M187.2 94.5h0M189.2 94.0h0M189.6 95.0h0M190.9 95.0h0M190.5 94.7h0M191.1 94.5h0M192.7 94.9h0M192.3 94.2h0M193.0 94.1h0M192.4 94.6h0M193.7 94.9h0M193.1 95.0h0M193.2 94.1h0M193.5 94.5h0M193.7 95.0h0M194.5 94.5h0M196.8 94.4h0M198.6 94.9h0M200.0 94.7h0M205.4 94.4h0M209.9 94.0h0M226.1 95.0h0M246.5 94.7h0M254.9 94.9h0M271.5 94.4h0M91.5 95.6h0M108.0 95.6h0M109.3 95.1h0M115.8 95.0h0M115.9 95.7h0M117.6 95.0h0M118.0 95.3h0M121.4 95.9h0M122.2 95.9h0M125.1 95.8h0M128.1 95.1h0M128.7 95.6h0M129.6 95.0h0M132.3 95.5h0M133.2 95.6h0M140.7 95.7h0M145.7 95.5h0M149.5 95.0h0M154.7 95.3h0M185.0 95.1h0M188.5 95.1h0M188.7 95.6h0M189.3 95.7h0M189.4 95.8h0M190.1 95.3h0M190.8 95.7h0M190.1 95.6h0M192.4 95.9h0M194.3 95.3h0M195.5 95.6h0M196.3 95.1h0M196.3 95.9h0M196.6 95.9h0M197.5 95.8h0M197.5 95.1h0M198.2 95.2h0M198.5 95.2h0M198.9 95.3h0M200.8 95.6h0M200.9 96.0h0M201.3 95.0h0M208.5 95.2h0M238.7 95.7h0M238.5 95.0h0M240.9 95.6h0M298.6 95.3h0M91.7 96.9h0M110.8 96.1h0M111.2 96.1h0M124.7 96.1h0M125.5 96.6h0M126.6 96.3h0M134.7 96.0h0M134.7 96.6h0M137.5 96.3h0M138.8 96.7h0M144.1 96.4h0M146.1 96.3h0M149.5 96.4h0M150.1 96.6h0M153.5 96.4h0M154.9 96.5h0M156.2 96.7h0M156.1 96.7h0M156.2 96.1h0M185.9 96.5h0M187.6 96.1h0M189.2 96.8h0M189.7 96.6h0M190.9 96.8h0M192.7 96.0h0M193.5 96.6h0M194.6 96.8h0M196.4 96.3h0M199.4 96.8h0M200.9 96.4h0M209.0 96.1h0M213.0 96.0h0M236.3 96.0h0M243.0 96.9h0M251.3 96.7h0M274.0 96.6h0M302.6 96.9h0M317.1 96.7h0M92.8 97.3h0M112.3 97.7h0M114.5 98.0h0M116.2 97.5h0M120.4 97.9h0M131.2 97.4h0M138.4 97.6h0M139.1 97.2h0M151.1 97.5h0M153.5 97.0h0M155.8 98.0h0M155.8 97.3h0M155.5 97.4h0M155.6 97.6h0M183.1 97.0h0M183.0 97.7h0M184.8 97.3h0M187.0 97.4h0M187.4 97.2h0M188.1 97.7h0M189.7 97.9h0M190.5 97.1h0M190.6 97.5h0M190.1 97.5h0M190.6 97.3h0M191.0 97.6h0M191.1 97.7h0M193.9 97.1h0M193.7 97.7h0M199.6 97.2h0M201.3 97.0h0M224.3 97.5h0M229.1 97.4h0M238.6 97.7h0M286.0 97.4h0M308.4 97.4h0M94.0 98.8h0M111.2 98.4h0M111.2 98.3h0M112.3 98.6h0M112.7 98.9h0M115.6 98.7h0M117.5 98.1h0M125.6 98.3h0M132.6 98.9h0M132.8 99.0h0M152.4 98.2h0M153.9 98.1h0M184.5 98.7h0M184.8 98.2h0M185.4 98.6h0M186.8 98.8h0M189.6 98.3h0M190.7 98.4h0M191.6 98.4h0M191.3 98.3h0M192.8 98.6h0M193.9 99.0h0M194.0 99.0h0M194.2 98.1h0M195.4 98.3h0M195.2 98.2h0M195.8 98.1h0M197.0 98.6h0M196.8 98.7h0M205.7 98.8h0M217.5 98.5h0M228.3 98.2h0M231.5 98.9h0M236.8 98.1h0M248.6 98.2h0M248.3 98.2h0M93.2 99.9h0M112.7 99.4h0M113.9 99.3h0M117.3 99.8h0M118.3 99.6h0M122.5 99.9h0M126.0 99.2h0M128.3 99.5h0M129.2 99.2h0M131.7 99.8h0M135.0 99.4h0M145.8 99.3h0M183.6 99.6h0M185.6 99.2h0M185.6 99.8h0M185.8 99.4h0M188.1 99.6h0M188.1 99.8h0M190.2 99.6h0M190.9 99.9h0M191.6 100.0h0M191.9 99.6h0M192.3 100.0h0M193.6 99.8h0M197.1 99.6h0M204.8 99.0h0M217.2 99.7h0M249.4 99.8h0M281.8 99.9h0M115.6 100.2h0M117.8 100.5h0M117.8 100.1h0M118.8 100.7h0M120.6 100.5h0M120.5 100.6h0M121.8 100.7h0M122.4 100.8h0M123.7 100.1h0M125.9 100.6h0M125.4 100.4h0M129.8 100.8h0M129.2 100.2h0M137.2 100.6h0M139.1 100.6h0M155.4 100.2h0M182.4 100.5h0M183.8 100.9h0M183.4 100.4h0M183.4 100.7h0M187.0 100.1h0M186.5 100.8h0M187.2 100.3h0M188.0 100.1h0M188.4 100.6h0M189.1 100.7h0M189.4 100.5h0M192.0 100.6h0M194.8 100.2h0M197.5 100.0h0M197.9 101.0h0M199.8 100.1h0M204.6 100.0h0M217.6 100.1h0M325.0 100.1h0M93.7 101.7h0M93.6 101.1h0M113.4 101.9h0M113.1 101.5h0M114.5 101.5h0M115.8 101.8h0M118.9 101.0h0M118.2 101.8h0M126.8 101.7h0M133.8 101.6h0M134.1 101.3h0M134.7 101.7h0M135.2 101.7h0M141.4 101.2h0M144.5 101.9h0M150.4 101.6h0M184.3 101.6h0M184.8 101.3h0M184.2 101.4h0M184.6 101.7h0M185.8 101.4h0M186.2 101.7h0M187.7 101.3h0M187.3 101.2h0M188.7 101.7h0M188.6 101.9h0M189.6 101.1h0M189.2 102.0h0M190.9 101.6h0M191.9 101.0h0M191.3 101.4h0M194.7 101.4h0M201.4 102.0h0M267.0 101.3h0M279.6 101.9h0M93.2 102.4h0M114.2 102.6h0M114.4 102.0h0M114.6 102.5h0M117.2 102.3h0M119.2 102.5h0M123.6 102.6h0M123.3 102.6h0M128.8 102.8h0M129.5 102.2h0M131.9 102.8h0M133.0 102.9h0M145.4 102.2h0M147.6 102.8h0M153.3 102.3h0M154.5 102.8h0M181.2 102.8h0M182.7 102.8h0M183.4 102.7h0M184.2 102.2h0M187.5 102.3h0M188.0 102.6h0M190.2 103.0h0M192.2 102.5h0M193.9 102.1h0M194.2 102.5h0M209.5 102.2h0M93.2 103.9h0M93.4 103.6h0M94.9 103.9h0M94.6 103.1h0M115.8 103.3h0M117.0 103.4h0M117.2 103.4h0M117.5 103.9h0M122.4 103.9h0M126.5 103.5h0M128.1 103.8h0M136.8 103.7h0M138.1 103.7h0M139.8 103.7h0M152.3 103.1h0M152.6 103.8h0M180.2 103.1h0M180.1 103.7h0M181.1 103.7h0M181.5 103.2h0M183.3 103.3h0M184.7 103.6h0M184.3 103.3h0M185.7 103.5h0M185.6 103.7h0M186.3 103.2h0M187.1 103.4h0M187.1 103.3h0M187.5 103.5h0M188.0 103.3h0M188.5 103.8h0M188.2 103.1h0M189.4 104.0h0M192.0 103.9h0M191.8 103.4h0M194.9 103.1h0M194.1 103.9h0M195.0 103.2h0M197.3 103.0h0M197.7 103.0h0M234.7 104.0h0M94.4 104.9h0M94.9 104.9h0M116.1 104.3h0M117.4 104.8h0M117.8 104.8h0M118.3 104.6h0M123.0 104.4h0M123.3 104.9h0M128.8 104.3h0M132.6 104.5h0M138.9 104.5h0M152.1 104.2h0M154.1 104.4h0M155.0 104.3h0M183.9 104.8h0M184.5 104.3h0M184.3 104.1h0M187.8 105.0h0M188.0 104.1h0M188.5 104.3h0M189.0 104.1h0M189.6 104.5h0M189.2 104.2h0M189.6 104.1h0M190.3 104.3h0M192.9 104.7h0M194.4 104.7h0M198.1 104.2h0M213.3 104.9h0M93.1 105.8h0M117.7 105.9h0M127.9 105.3h0M127.6 105.3h0M129.7 105.3h0M130.7 105.6h0M133.8 105.9h0M136.2 105.0h0M140.6 106.0h0M142.0 105.9h0M142.6 105.8h0M144.6 105.4h0M180.5 105.5h0M181.4 105.4h0M181.1 105.2h0M183.0 105.2h0M185.0 105.8h0M185.1 105.7h0M186.7 105.5h0M186.7 105.7h0M186.6 105.8h0M187.5 105.1h0M188.8 105.1h0M188.6 105.6h0M189.4 105.3h0M205.3 105.3h0M210.3 105.9h0M93.8 106.3h0M94.2 106.2h0M94.2 106.4h0M94.0 106.8h0M95.0 106.5h0M95.5 106.1h0M95.5 106.8h0M96.0 106.6h0M95.0 106.7h0M118.9 106.8h0M119.3 106.0h0M121.6 106.8h0M126.9 107.0h0M130.8 106.8h0M131.9 106.5h0M131.3 106.9h0M131.1 106.8h0M134.6 106.5h0M139.8 106.0h0M153.6 106.6h0M153.4 106.7h0M179.7 106.6h0M181.6 106.1h0M182.0 106.4h0M181.2 106.7h0M183.3 106.1h0M184.0 106.6h0M183.1 106.1h0M186.1 106.7h0M187.0 106.6h0M186.8 106.7h0M187.1 106.7h0M189.8 106.5h0M189.7 106.3h0M189.1 106.6h0M195.3 106.1h0M95.1 107.8h0M95.3 107.9h0M119.6 107.8h0M119.1 107.3h0M120.4 108.0h0M129.3 107.2h0M131.4 107.8h0M132.4 108.0h0M132.1 107.8h0M133.6 107.3h0M143.2 107.7h0M153.1 107.4h0M153.1 107.3h0M153.3 107.8h0M153.7 107.5h0M179.6 107.3h0M180.8 107.6h0M180.4 107.5h0M182.1 107.4h0M182.4 107.9h0M182.6 107.8h0M183.0 107.7h0M183.4 107.3h0M184.3 107.4h0M185.3 107.3h0M185.1 107.1h0M185.7 107.8h0M186.2 107.1h0M187.9 107.2h0M189.0 107.8h0M188.8 108.0h0M189.6 107.7h0M190.9 107.6h0M190.1 107.3h0M193.4 107.6h0M198.8 107.9h0M199.1 107.3h0M219.4 107.6h0M91.5 108.7h0M95.1 108.0h0M95.3 108.9h0M96.4 109.0h0M96.5 109.0h0M96.6 108.7h0M119.3 108.1h0M122.1 108.6h0M122.4 108.1h0M123.2 108.2h0M126.8 108.5h0M128.8 108.4h0M131.4 108.7h0M132.1 108.5h0M133.1 108.9h0M133.9 108.4h0M133.9 108.5h0M141.6 108.6h0M143.0 108.4h0M146.4 108.2h0M153.5 108.3h0M153.9 108.9h0M178.6 108.2h0M178.4 108.3h0M179.8 108.8h0M179.4 108.6h0M185.5 108.8h0M185.5 108.7h0M186.9 108.2h0M186.0 108.4h0M187.7 108.5h0M189.8 108.2h0M193.2 108.7h0M95.2 109.4h0M120.4 109.3h0M122.0 109.3h0M123.5 109.4h0M125.0 109.4h0M124.5 109.9h0M131.9 109.9h0M132.5 109.9h0M132.7 109.5h0M133.4 109.5h0M136.8 109.7h0M141.1 109.2h0M152.0 109.9h0M151.7 109.3h0M151.1 109.2h0M152.1 109.1h0M179.6 109.4h0M182.3 109.1h0M184.9 109.5h0M186.2 109.3h0M186.8 109.3h0M189.5 109.2h0M190.9 109.3h0M192.6 109.6h0M192.7 109.9h0M197.6 109.1h0M121.4 110.9h0M126.7 110.6h0M126.9 110.5h0M127.3 110.6h0M131.7 110.5h0M138.7 110.3h0M138.9 110.5h0M144.8 110.4h0M152.3 110.8h0M177.3 110.4h0M177.3 110.1h0M178.2 111.0h0M178.7 110.8h0M178.1 110.5h0M179.7 110.2h0M180.9 110.7h0M180.5 110.7h0M183.0 110.8h0M185.3 110.1h0M190.1 110.9h0M192.0 110.2h0M95.1 112.0h0M122.7 111.6h0M122.8 111.7h0M123.7 111.0h0M123.6 111.2h0M126.5 111.6h0M132.3 111.3h0M140.5 111.3h0M143.3 111.8h0M152.8 111.6h0M152.4 111.6h0M152.1 111.2h0M178.2 111.1h0M179.5 111.1h0M180.9 111.3h0M180.6 111.1h0M183.8 111.3h0M187.4 111.4h0M189.2 111.8h0M198.5 111.4h0M199.1 111.1h0M97.3 112.9h0M97.1 112.1h0M123.8 112.6h0M123.6 112.5h0M124.7 112.4h0M124.3 112.7h0M135.8 112.7h0M136.3 112.7h0M137.3 112.6h0M151.2 112.6h0M151.8 112.8h0M151.6 112.1h0M178.9 112.7h0M178.8 112.2h0M178.3 112.1h0M179.9 112.1h0M179.0 112.9h0M180.5 112.1h0M182.0 112.6h0M181.3 112.7h0M183.0 112.8h0M186.1 112.4h0M188.3 112.8h0M191.1 112.6h0M202.4 112.6h0M96.6 113.5h0M97.1 113.4h0M97.5 113.9h0M137.9 113.3h0M148.6 114.0h0M151.3 113.2h0M177.8 113.7h0M177.4 113.7h0M177.3 113.1h0M178.1 113.1h0M179.4 113.8h0M179.8 113.5h0M180.0 114.0h0M180.1 113.2h0M181.1 113.1h0M184.6 113.8h0M186.2 113.7h0M187.4 113.1h0M189.5 113.9h0M97.0 115.0h0M125.2 114.1h0M130.3 114.4h0M134.3 114.8h0M135.9 114.4h0M137.4 114.1h0M142.3 114.3h0M148.2 114.1h0M151.6 114.3h0M151.1 114.2h0M176.1 114.1h0M177.4 114.3h0M178.8 114.6h0M179.2 114.1h0M180.9 114.3h0M181.6 114.3h0M184.0 114.8h0M188.3 114.5h0M190.1 114.7h0M96.7 115.8h0M98.0 115.5h0M97.1 115.1h0M98.2 115.1h0M126.2 115.3h0M127.9 116.0h0M150.1 115.8h0M177.9 115.4h0M178.6 115.2h0M179.8 115.2h0M179.4 115.9h0M179.6 115.7h0M180.8 115.3h0M182.8 115.6h0M184.8 115.7h0M187.4 115.6h0M188.1 115.8h0M200.9 115.5h0M97.3 116.5h0M97.6 116.3h0M98.9 116.9h0M98.6 116.4h0M127.6 116.8h0M127.3 116.7h0M175.8 116.8h0M175.5 116.5h0M176.3 116.2h0M177.8 116.8h0M178.9 116.9h0M179.9 116.8h0M180.0 116.0h0M180.7 116.4h0M183.1 116.7h0M186.5 116.3h0M187.6 116.7h0M188.2 116.9h0M196.5 116.1h0M96.3 117.8h0M127.0 117.5h0M129.7 117.4h0M132.2 117.7h0M132.9 117.2h0M143.3 117.9h0M149.0 117.7h0M149.4 117.3h0M150.9 117.4h0M175.3 117.6h0M177.4 117.4h0M177.7 117.8h0M179.0 118.0h0M179.1 117.8h0M180.2 117.0h0M181.5 118.0h0M182.6 117.1h0M182.8 117.5h0M184.0 117.6h0M194.9 117.2h0M97.7 118.4h0M98.1 118.8h0M128.1 118.8h0M130.8 118.3h0M144.1 118.9h0M147.0 118.2h0M176.4 118.5h0M178.8 118.4h0M179.4 118.9h0M179.1 118.1h0M180.4 118.6h0M181.8 118.7h0M181.8 118.5h0M182.1 118.3h0M187.2 118.2h0M191.0 118.6h0M97.2 119.3h0M98.2 119.9h0M99.6 119.6h0M129.6 120.0h0M131.1 119.3h0M147.8 119.5h0M148.1 119.7h0M150.7 119.9h0M174.0 119.7h0M175.8 119.6h0M177.9 119.9h0M178.1 119.3h0M180.4 119.0h0M180.7 119.8h0M180.4 119.3h0M183.6 119.5h0M99.6 120.9h0M130.2 120.5h0M132.0 120.3h0M136.2 121.0h0M149.1 120.5h0M149.5 120.1h0M175.2 120.6h0M176.8 120.7h0M177.0 120.2h0M178.2 120.5h0M179.4 120.3h0M183.8 120.9h0M183.0 120.3h0M99.9 121.4h0M143.9 121.3h0M148.6 121.2h0M149.9 121.2h0M174.1 122.0h0M176.6 121.3h0M179.4 121.3h0M179.2 121.4h0M179.6 121.3h0M179.8 121.9h0M180.8 121.6h0M185.8 121.5h0M186.2 121.9h0M187.8 121.5h0M192.6 121.1h0M100.1 122.3h0M140.3 122.9h0M147.7 122.9h0M148.8 122.9h0M149.6 122.9h0M174.6 122.3h0M174.7 122.8h0M175.2 122.5h0M175.3 122.4h0M175.3 122.3h0M177.7 122.4h0M177.9 122.2h0M177.4 122.5h0M178.1 122.7h0M180.8 122.6h0M181.6 122.6h0M182.2 122.7h0M187.3 122.9h0M197.3 122.6h0M100.1 123.4h0M100.2 123.3h0M134.9 123.0h0M137.3 123.3h0M140.6 123.1h0M142.1 123.8h0M146.3 124.0h0M147.7 123.2h0M147.5 123.5h0M147.3 123.6h0M149.0 123.6h0M173.0 123.9h0M172.8 123.4h0M172.0 123.2h0M173.3 123.4h0M173.9 123.6h0M175.3 123.0h0M179.5 123.2h0M180.6 123.4h0M180.2 123.9h0M182.0 123.6h0M100.8 124.4h0M100.1 124.2h0M134.3 124.6h0M140.3 124.7h0M147.8 124.9h0M175.0 124.6h0M175.6 124.1h0M177.3 124.4h0M177.0 124.4h0M179.2 124.8h0M179.1 124.4h0M180.7 124.7h0M182.7 124.9h0M183.6 124.2h0M99.9 125.8h0M135.2 125.4h0M135.1 125.2h0M136.2 125.6h0M136.4 125.6h0M137.1 125.1h0M142.2 125.8h0M144.1 125.6h0M147.3 125.8h0M171.5 125.4h0M171.4 125.1h0M174.3 125.8h0M174.0 125.9h0M174.6 125.6h0M175.5 126.0h0M176.1 125.1h0M176.5 125.7h0M178.5 125.2h0M180.7 125.4h0M184.4 125.0h0M99.7 127.0h0M100.6 126.6h0M136.2 126.9h0M137.9 127.0h0M147.6 127.0h0M147.4 126.8h0M171.7 126.3h0M175.7 126.8h0M177.1 126.3h0M178.5 126.2h0M179.7 126.1h0M180.4 126.1h0M100.0 127.7h0M101.5 127.3h0M139.1 127.3h0M143.8 127.5h0M172.0 127.0h0M171.8 127.6h0M172.7 127.2h0M173.9 127.4h0M175.7 127.8h0M177.1 127.1h0M178.4 127.2h0M179.8 127.2h0M180.3 127.9h0M181.3 127.0h0M181.7 128.0h0M181.8 127.5h0M183.7 127.1h0M183.8 127.1h0M97.2 128.2h0M137.1 128.9h0M139.1 128.2h0M139.1 128.5h0M145.3 128.5h0M145.9 128.1h0M146.6 128.2h0M146.2 128.4h0M146.2 128.4h0M170.1 128.9h0M171.4 128.3h0M171.7 128.7h0M174.9 128.3h0M174.3 128.9h0M174.4 128.9h0M176.4 128.0h0M179.7 128.3h0M189.4 128.3h0M198.1 128.7h0M100.6 129.0h0M100.5 129.4h0M101.4 129.6h0M102.4 129.7h0M138.5 129.2h0M139.5 130.0h0M142.6 129.3h0M142.5 129.3h0M144.8 129.8h0M170.3 129.3h0M170.3 129.6h0M170.9 129.0h0M171.6 129.9h0M172.5 129.6h0M175.2 129.2h0M176.6 129.3h0M176.0 129.1h0M177.5 129.8h0M180.8 129.3h0M195.9 129.0h0M102.7 130.9h0M140.0 130.4h0M140.2 130.3h0M141.5 130.5h0M142.1 130.3h0M143.0 130.0h0M144.8 130.4h0M170.5 130.8h0M171.7 130.6h0M171.9 130.9h0M175.7 130.1h0M175.8 130.9h0M176.7 130.9h0M176.5 131.0h0M177.6 130.4h0M178.4 130.6h0M101.7 131.3h0M101.9 132.0h0M101.9 131.7h0M102.9 131.2h0M102.7 131.1h0M141.7 131.5h0M143.0 131.3h0M142.2 131.6h0M172.2 131.6h0M173.4 131.3h0M179.8 131.6h0M190.9 131.3h0M103.7 132.8h0M103.6 132.3h0M170.6 132.7h0M171.4 132.3h0M171.7 132.6h0M171.7 132.9h0M171.3 132.6h0M172.4 132.7h0M173.3 132.0h0M174.3 132.2h0M176.0 132.3h0M176.4 132.7h0M177.5 132.4h0M177.7 132.9h0M181.6 132.4h0M102.4 134.0h0M102.2 133.2h0M169.7 133.0h0M171.3 133.3h0M172.1 133.3h0M172.3 133.8h0M172.8 133.7h0M172.4 133.9h0M175.0 134.0h0M197.1 133.8h0M102.7 134.4h0M169.8 134.6h0M173.0 134.3h0M172.4 134.0h0M172.1 134.6h0M172.5 134.4h0M174.7 134.9h0M176.5 134.7h0M181.4 134.8h0M194.5 134.2h0M104.5 135.9h0M104.1 135.8h0M105.7 135.2h0M170.5 135.6h0M171.1 135.9h0M171.1 135.9h0M172.5 135.6h0M172.2 135.1h0M172.6 135.5h0M172.7 135.3h0M174.3 135.4h0M174.6 135.3h0M175.3 135.7h0M176.4 135.3h0M105.7 136.3h0M106.6 136.3h0M168.7 137.0h0M169.7 136.5h0M170.9 136.9h0M172.3 136.4h0M172.6 136.3h0M173.9 136.7h0M177.0 136.1h0M104.0 137.3h0M106.9 137.3h0M169.5 137.3h0M170.9 137.3h0M172.9 137.7h0M172.1 138.0h0M173.9 137.0h0M176.2 137.3h0M105.2 138.9h0M106.5 138.7h0M107.3 138.8h0M168.2 138.2h0M171.4 138.7h0M172.8 138.0h0M174.0 138.1h0M176.6 138.6h0M191.5 138.2h0M109.4 139.7h0M168.9 139.3h0M169.9 139.4h0M170.1 139.1h0M170.3 139.2h0M172.3 139.3h0M173.1 139.9h0M173.8 139.7h0M173.8 139.3h0M175.2 139.3h0M167.5 140.2h0M167.6 141.0h0M167.4 140.7h0M168.9 140.5h0M169.7 140.0h0M170.2 140.0h0M171.9 140.0h0M172.8 140.5h0M173.3 140.2h0M179.2 140.9h0M188.6 140.8h0M108.2 141.6h0M109.5 141.8h0M111.0 141.2h0M111.6 141.5h0M167.2 141.3h0M168.0 141.5h0M167.2 141.3h0M167.6 141.4h0M167.6 141.5h0M168.0 141.3h0M168.5 141.7h0M172.8 141.2h0M172.6 141.3h0M173.4 141.7h0M173.6 142.0h0M175.9 141.9h0M112.9 142.2h0M167.2 142.1h0M174.3 142.4h0M174.3 142.8h0M109.2 143.1h0M110.5 143.8h0M110.9 143.4h0M113.7 143.3h0M166.7 143.5h0M166.6 143.9h0M167.8 143.1h0M168.5 143.4h0M168.7 144.0h0M169.0 143.4h0M169.5 143.8h0M170.8 143.2h0M171.4 143.2h0M171.8 143.4h0M174.9 143.3h0M174.2 143.8h0M174.7 143.8h0M188.9 143.4h0M111.7 144.7h0M112.1 144.7h0M112.6 144.9h0M168.8 144.9h0M168.3 144.4h0M168.0 144.9h0M169.1 144.9h0M170.4 144.9h0M172.9 144.7h0M175.8 144.8h0M177.7 144.0h0M114.6 145.4h0M165.7 145.0h0M166.0 145.9h0M168.3 145.9h0M168.0 146.0h0M169.8 145.9h0M171.2 145.0h0M171.6 145.3h0M180.8 145.1h0M114.2 146.9h0M115.3 146.2h0M116.1 146.2h0M170.9 146.2h0M170.2 146.1h0M172.8 146.8h0M165.6 147.0h0M165.1 147.1h0M166.1 147.9h0M166.7 147.1h0M167.9 147.3h0M168.3 147.7h0M169.2 148.0h0M169.3 147.7h0M169.1 147.1h0M174.1 147.8h0M116.6 148.4h0M117.9 148.4h0M117.9 149.0h0M118.5 148.3h0M164.5 148.8h0M165.4 148.6h0M165.0 148.5h0M169.9 149.9h0M178.1 149.6h0M118.4 150.5h0M164.9 150.7h0M188.1 150.3h0M119.7 151.8h0M119.0 151.0h0M121.9 151.4h0M121.4 151.5h0M121.4 151.0h0M166.7 151.9h0M112.9 152.9h0M119.4 152.3h0M163.7 152.6h0M164.2 152.8h0M169.0 152.7h0M184.4 153.7h0M115.8 154.5h0M117.7 154.7h0M121.4 154.8h0M121.1 154.9h0M163.8 154.7h0M167.8 154.4h0M121.8 155.7h0M121.9 156.0h0M122.1 155.7h0M123.1 155.9h0M124.8 155.8h0M124.4 155.9h0M163.8 155.1h0M163.8 155.6h0M163.1 155.3h0M165.7 155.5h0M182.7 155.6h0M118.1 156.9h0M121.1 156.1h0M122.8 156.7h0M123.8 156.9h0M123.6 156.9h0M163.1 156.2h0M163.5 156.7h0M165.1 156.3h0M165.6 156.6h0M166.2 157.0h0M168.7 156.1h0M173.2 156.7h0M189.7 156.5h0M123.1 157.2h0M125.4 157.5h0M162.2 157.9h0M162.2 157.5h0M163.1 157.3h0M122.4 158.3h0M123.9 158.9h0M124.6 158.5h0M125.0 158.2h0M162.2 158.0h0M163.8 158.9h0M166.9 158.9h0M188.0 158.4h0M124.0 159.5h0M123.5 159.2h0M125.4 159.4h0M125.6 159.0h0M126.2 159.3h0M172.1 159.2h0M181.6 159.7h0M123.1 160.3h0M126.0 160.0h0M126.7 160.8h0M126.5 160.4h0M162.8 160.7h0M165.3 160.1h0M125.9 161.7h0M126.1 161.4h0M127.6 161.2h0M127.8 161.0h0M127.2 161.5h0M161.4 161.4h0M161.3 161.3h0M162.1 161.5h0M162.9 161.6h0M165.5 161.9h0M126.0 162.4h0M166.2 162.4h0M175.8 162.4h0M125.4 163.8h0M127.6 163.8h0M127.7 163.4h0M127.7 163.2h0M160.2 163.1h0M160.4 163.3h0M162.8 163.1h0M163.6 163.1h0M128.0 164.1h0M128.6 164.3h0M160.2 164.6h0M161.5 164.6h0M169.3 164.9h0M94.2 165.3h0M127.3 165.7h0M128.1 165.2h0M129.3 165.1h0M129.9 165.5h0M162.2 165.1h0M79.3 166.7h0M114.4 166.4h0M128.2 166.7h0M127.4 167.1h0M128.1 167.0h0M130.1 167.3h0M130.5 167.3h0M130.6 168.0h0M160.4 167.2h0M162.0 167.3h0M84.8 168.7h0M127.6 168.5h0M130.5 168.1h0M159.9 168.4h0M159.7 168.7h0M129.4 169.1h0M130.0 169.6h0M130.8 169.5h0M131.1 169.8h0M131.5 170.0h0M128.3 170.5h0M131.4 170.0h0M131.7 170.9h0M157.2 170.6h0M158.1 170.1h0M164.3 170.8h0M95.2 171.8h0M131.9 171.7h0M132.3 172.0h0M165.3 171.5h0M90.7 172.9h0M128.6 172.9h0M131.3 172.1h0M157.1 172.7h0M157.9 172.4h0M156.2 173.6h0M157.6 173.3h0M157.8 173.8h0M129.6 174.8h0M132.8 174.6h0M133.5 174.4h0M156.1 174.4h0M157.6 174.7h0M157.1 174.3h0M131.8 175.8h0M133.4 175.6h0M134.0 175.9h0M155.6 175.6h0M157.5 175.7h0M158.5 175.2h0M134.6 177.0h0M134.3 176.1h0M155.6 176.4h0M131.8 177.4h0M131.2 177.2h0M134.6 177.4h0M134.7 177.2h0M135.5 177.2h0M155.2 177.2h0M155.1 177.4h0M155.4 177.5h0M155.4 177.2h0M155.9 177.7h0M156.7 177.1h0M156.7 177.5h0M127.4 178.2h0M134.9 178.7h0M135.5 178.2h0M156.4 178.2h0M156.5 178.6h0M157.9 178.3h0M135.9 179.6h0M135.4 179.9h0M136.7 179.1h0M136.6 179.8h0M167.4 179.0h0M125.8 180.8h0M131.7 180.6h0M136.8 181.0h0M155.4 180.9h0M156.9 180.4h0M125.4 181.4h0M137.3 181.7h0M155.3 181.7h0M155.7 181.0h0M136.2 182.1h0M136.5 182.1h0M156.6 182.8h0M157.6 182.4h0M135.8 183.9h0M136.5 183.7h0M137.2 183.1h0M137.2 183.1h0M138.8 183.5h0M156.7 183.4h0M156.1 183.5h0M158.2 183.1h0M155.4 184.3h0M157.5 184.8h0M81.3 185.6h0M139.4 185.5h0M139.2 185.7h0M137.0 186.6h0M138.2 186.7h0M139.6 186.6h0M156.7 186.9h0M156.0 186.7h0M156.7 186.5h0M156.5 186.8h0M157.9 186.2h0M129.7 187.2h0M156.7 188.0h0M156.4 188.0h0M157.2 187.0h0M157.5 187.4h0M159.1 187.7h0M169.2 187.5h0M139.5 188.3h0M140.1 188.2h0M140.1 188.9h0M140.3 188.9h0M140.8 188.7h0M141.4 188.0h0M141.2 188.4h0M157.4 188.8h0M157.0 188.7h0M158.7 188.1h0M158.4 188.9h0M160.7 188.3h0M76.4 189.5h0M90.3 189.4h0M94.2 189.2h0M141.1 189.1h0M142.0 189.8h0M141.2 189.2h0M157.2 189.3h0M157.7 189.2h0M157.3 189.9h0M157.7 189.7h0M159.0 189.9h0M160.1 189.5h0M160.8 189.4h0M142.9 190.9h0M159.8 190.7h0M160.6 190.9h0M141.7 192.0h0M141.2 191.5h0M141.4 191.4h0M159.2 191.3h0M159.0 192.0h0M160.0 191.6h0M86.5 192.6h0M136.6 192.4h0M160.8 192.6h0M160.3 192.2h0M161.0 192.7h0M141.4 193.1h0M142.8 193.2h0M142.5 193.6h0M143.1 193.5h0M144.3 193.8h0M160.4 193.1h0M160.6 193.6h0M161.7 193.5h0M144.5 194.7h0M161.5 194.4h0M162.4 194.2h0M162.3 194.2h0M163.6 194.7h0M135.8 195.8h0M141.9 195.9h0M142.9 195.2h0M144.6 196.0h0M145.9 195.1h0M145.4 195.8h0M145.1 195.3h0M145.9 195.9h0M146.0 195.8h0M163.8 195.5h0M166.8 195.3h0M144.9 196.6h0M144.5 196.5h0M145.8 196.9h0M163.8 197.0h0M164.2 196.8h0M165.0 196.7h0M166.2 196.4h0M167.6 196.4h0M168.7 196.2h0M169.9 196.0h0M146.7 197.3h0M148.0 197.3h0M147.6 197.1h0M164.8 197.3h0M164.4 197.7h0M164.3 198.0h0M164.7 197.0h0M164.5 197.9h0M164.2 197.5h0M145.9 198.7h0M146.0 198.8h0M147.9 198.5h0M165.1 198.3h0M165.6 198.5h0M165.1 198.1h0M166.2 198.4h0M166.9 198.4h0M172.9 198.5h0M143.5 199.1h0M144.4 199.5h0M148.4 199.2h0M149.1 199.3h0M150.4 200.0h0M167.7 199.6h0M147.5 200.9h0M149.3 200.1h0M150.8 200.1h0M151.3 200.7h0M151.9 200.0h0M149.8 201.7h0M149.1 201.1h0M151.8 201.1h0M152.7 201.7h0M153.0 201.8h0M153.1 201.3h0M169.6 201.3h0M170.3 201.7h0M170.3 201.8h0M174.4 201.2h0M176.1 201.7h0M178.2 201.3h0M147.0 202.4h0M148.0 202.6h0M149.1 202.3h0M149.7 202.3h0M150.6 202.6h0M151.1 202.2h0M151.1 202.1h0M151.9 202.1h0M152.9 203.0h0M152.8 202.3h0M171.3 202.9h0M180.4 202.2h0M148.8 203.1h0M149.3 203.3h0M150.0 203.2h0M151.2 203.8h0M152.8 203.1h0M153.1 203.3h0M153.6 203.5h0M154.6 203.2h0M172.4 203.2h0M172.5 203.0h0M172.2 203.7h0M173.5 203.2h0M173.8 203.6h0M173.1 203.4h0M175.4 203.6h0M136.7 204.8h0M151.2 205.0h0M152.1 204.3h0M152.7 204.5h0M155.7 204.5h0M156.2 204.8h0M157.6 204.4h0M143.7 205.6h0M154.9 205.0h0M154.6 205.1h0M154.1 205.9h0M156.6 205.1h0M158.0 205.2h0M178.6 205.8h0M154.5 206.4h0M155.3 206.3h0M155.1 206.3h0M156.5 206.6h0M156.1 206.0h0M158.6 206.1h0M158.0 206.7h0M158.9 206.8h0M160.0 206.2h0M159.0 206.1h0M176.0 206.2h0M177.4 206.0h0M152.1 207.9h0M154.3 207.1h0M155.3 207.0h0M157.4 207.7h0M157.3 207.6h0M157.2 207.4h0M158.4 208.0h0M158.4 207.1h0M159.9 207.7h0M160.4 207.0h0M178.4 207.2h0M178.8 207.3h0M178.5 207.1h0M180.1 207.0h0M183.0 207.5h0M154.2 208.5h0M157.9 208.4h0M158.3 208.3h0M159.6 208.8h0M161.0 208.2h0M161.4 208.0h0M161.1 208.1h0M178.4 208.8h0M178.2 208.0h0M178.7 208.1h0M179.6 208.6h0M180.1 208.0h0M181.6 208.8h0M149.8 209.2h0M156.5 209.8h0M159.5 209.6h0M160.2 209.3h0M161.0 209.1h0M161.7 209.0h0M161.3 209.8h0M163.6 209.9h0M163.9 209.1h0M179.9 209.7h0M179.6 209.3h0M181.0 209.6h0M182.0 209.3h0M156.7 210.1h0M158.0 210.8h0M159.9 210.7h0M163.6 210.4h0M163.9 210.2h0M163.8 210.7h0M165.0 210.8h0M183.8 210.1h0M185.3 210.9h0M159.0 211.8h0M161.1 211.1h0M162.7 211.3h0M162.2 211.8h0M164.1 211.4h0M164.9 212.0h0M165.1 211.9h0M182.8 211.3h0M183.8 211.4h0M184.5 211.8h0M161.6 212.9h0M162.9 212.6h0M162.7 212.1h0M165.0 212.7h0M164.4 212.2h0M165.6 212.2h0M183.2 212.6h0M186.2 212.6h0M186.6 212.3h0M160.6 213.8h0M160.2 213.6h0M161.6 214.0h0M163.5 213.8h0M164.2 213.2h0M165.6 213.7h0M165.6 213.2h0M166.7 214.0h0M166.8 213.5h0M167.3 213.8h0M184.6 213.0h0M185.6 213.1h0M185.1 213.2h0M186.1 213.6h0M158.3 214.6h0M160.2 214.4h0M161.8 214.2h0M163.7 214.2h0M163.8 214.6h0M163.2 215.0h0M163.9 214.5h0M165.7 214.8h0M165.7 214.9h0M166.5 214.2h0M166.8 214.2h0M167.8 214.8h0M167.9 214.7h0M167.8 214.9h0M168.0 214.5h0M185.6 214.4h0M185.4 214.5h0M186.5 215.0h0M186.8 214.9h0M186.4 214.0h0M186.4 214.8h0M189.0 214.5h0M198.2 214.3h0M198.4 214.4h0M161.0 215.8h0M163.7 215.5h0M165.6 215.9h0M166.6 215.9h0M168.5 215.5h0M168.9 215.6h0M169.6 215.5h0M170.6 215.9h0M170.3 215.7h0M170.9 215.2h0M187.2 215.2h0M187.7 215.8h0M191.2 215.4h0M102.4 216.1h0M158.3 216.0h0M167.6 216.2h0M168.3 216.9h0M169.8 216.9h0M170.7 216.8h0M170.7 216.9h0M170.4 216.7h0M171.8 216.6h0M188.9 216.3h0M188.3 216.3h0M189.3 216.1h0M189.5 216.2h0M190.3 216.5h0M195.6 216.5h0M165.7 217.1h0M165.6 217.4h0M167.2 217.5h0M168.1 217.1h0M169.4 217.9h0M169.4 217.7h0M170.8 217.1h0M170.8 217.2h0M173.1 217.1h0M191.0 217.9h0M191.3 217.9h0M191.7 217.1h0M195.3 217.8h0M167.4 218.5h0M168.2 218.4h0M169.7 218.3h0M170.7 218.4h0M171.9 218.6h0M171.7 218.5h0M171.4 218.7h0M171.8 218.9h0M172.3 218.3h0M191.0 218.2h0M192.8 218.6h0M192.1 218.7h0M193.2 218.5h0M193.0 218.9h0M97.3 219.8h0M128.9 219.2h0M129.6 219.9h0M168.3 219.5h0M168.2 219.2h0M170.0 219.1h0M169.0 220.0h0M170.2 219.8h0M172.0 220.0h0M173.4 219.7h0M176.6 220.0h0M176.7 219.2h0M191.3 219.3h0M194.9 220.0h0M202.1 219.7h0M167.7 220.0h0M170.7 220.3h0M172.8 220.5h0M172.3 220.3h0M173.4 221.0h0M174.3 220.1h0M174.9 220.2h0M174.5 220.8h0M177.3 220.2h0M192.8 220.9h0M193.0 221.0h0M192.5 220.3h0M193.7 220.1h0M193.8 220.5h0M193.2 220.5h0M195.9 220.1h0M195.4 220.6h0M170.5 221.4h0M170.3 221.7h0M173.3 221.9h0M173.9 221.7h0M174.4 221.1h0M176.1 221.3h0M177.0 221.9h0M176.3 221.3h0M177.9 222.0h0M178.7 222.0h0M178.4 221.6h0M178.1 222.0h0M178.8 221.2h0M178.9 221.8h0M193.4 221.1h0M209.3 221.8h0M175.3 222.8h0M176.0 222.8h0M176.5 222.1h0M179.3 222.5h0M195.6 222.7h0M195.2 222.2h0M200.7 222.8h0M175.7 223.3h0M176.3 223.7h0M179.0 223.9h0M178.1 223.2h0M178.5 223.0h0M178.8 223.1h0M179.3 223.9h0M179.9 223.9h0M181.7 223.5h0M181.5 223.9h0M176.3 224.0h0M178.0 225.0h0M177.9 224.6h0M178.7 224.3h0M180.7 224.9h0M181.9 224.2h0M198.2 224.8h0M199.4 224.5h0M174.3 225.7h0M176.3 225.2h0M179.9 225.4h0M179.9 225.9h0M180.8 225.4h0M181.0 225.5h0M181.4 225.8h0M181.2 225.8h0M198.1 225.7h0M201.1 225.8h0M157.1 226.3h0M176.6 226.7h0M178.6 226.7h0M179.0 226.1h0M179.5 226.6h0M180.0 226.8h0M180.9 226.3h0M183.0 226.0h0M184.3 227.0h0M185.1 226.3h0M200.0 226.0h0M199.5 226.4h0M199.9 226.4h0M200.4 226.6h0M204.4 226.7h0M180.5 227.6h0M180.5 227.4h0M182.0 228.0h0M181.1 227.1h0M183.0 227.2h0M184.4 227.3h0M186.9 227.7h0M186.8 227.5h0M175.6 228.5h0M180.8 229.0h0M181.3 228.3h0M183.4 228.1h0M183.1 228.0h0M183.9 228.9h0M184.2 228.9h0M185.0 228.0h0M185.6 228.0h0M186.2 228.1h0M186.1 228.6h0M187.5 228.8h0M187.0 228.4h0M187.1 228.0h0M188.8 228.0h0M201.4 228.3h0M201.1 228.5h0M202.6 228.0h0M203.2 228.1h0M180.1 229.0h0M183.3 229.4h0M183.6 229.8h0M183.5 229.4h0M184.6 229.2h0M186.4 229.3h0M186.4 229.1h0M187.7 229.2h0M187.0 230.0h0M188.5 229.9h0M190.0 229.0h0M190.8 229.4h0M202.8 229.2h0M202.0 229.7h0M202.6 229.0h0M203.9 229.3h0M205.4 229.8h0M180.5 230.8h0M183.1 230.6h0M185.4 230.3h0M186.6 230.6h0M187.9 230.6h0M188.7 230.6h0M188.1 230.7h0M189.1 230.2h0M189.6 230.6h0M189.5 230.8h0M190.4 230.3h0M203.8 230.4h0M204.9 230.5h0M184.0 231.5h0M185.3 231.2h0M186.2 231.6h0M187.9 231.5h0M188.1 231.2h0M188.7 231.8h0M188.5 231.5h0M190.7 231.8h0M191.4 231.4h0M191.5 231.8h0M191.7 231.2h0M191.2 231.2h0M192.0 231.5h0M204.2 231.1h0M207.9 231.1h0M207.2 231.3h0M207.8 231.8h0M185.2 232.4h0M185.3 232.1h0M188.3 232.5h0M189.7 232.4h0M190.7 232.8h0M190.5 232.3h0M190.2 232.2h0M191.4 232.3h0M191.2 232.8h0M193.6 232.5h0M193.2 232.2h0M194.4 233.0h0M194.8 232.7h0M204.9 232.6h0M205.7 232.4h0M205.9 232.4h0M205.3 232.3h0M208.8 232.5h0M136.9 233.4h0M188.7 233.8h0M189.7 233.5h0M192.7 233.2h0M193.2 233.6h0M194.9 233.4h0M195.7 233.7h0M195.8 233.9h0M197.0 233.0h0M205.4 233.5h0M205.4 233.0h0M205.7 234.0h0M206.7 233.7h0M207.5 234.0h0M188.8 234.7h0M190.0 234.4h0M193.4 234.5h0M196.6 234.2h0M196.3 234.9h0M198.7 234.2h0M198.6 234.9h0M207.0 234.5h0M207.8 234.2h0M215.8 234.4h0M188.9 235.4h0M191.0 235.3h0M194.1 235.9h0M196.9 235.8h0M196.4 235.8h0M198.3 235.2h0M206.2 235.5h0M207.9 235.4h0M207.1 235.4h0M190.9 236.8h0M191.7 236.2h0M192.1 236.6h0M193.1 236.3h0M194.9 236.2h0M194.2 236.5h0M194.4 236.5h0M194.0 236.7h0M195.3 236.8h0M196.3 236.4h0M197.9 237.0h0M197.2 236.9h0M199.0 236.3h0M199.6 236.2h0M200.1 236.7h0M201.2 236.7h0M201.9 236.2h0M201.3 236.9h0M202.9 236.9h0M202.3 236.6h0M206.8 236.9h0M207.6 236.4h0M207.3 236.7h0M207.6 236.7h0M192.5 237.9h0M193.6 237.1h0M195.6 237.6h0M197.2 237.9h0M197.3 237.3h0M198.4 237.2h0M199.4 238.0h0M199.4 237.2h0M199.8 237.6h0M201.2 237.1h0M202.7 237.3h0M203.5 237.3h0M203.3 237.8h0M206.2 237.4h0M210.0 237.7h0M192.6 238.9h0M194.5 239.0h0M196.8 238.3h0M197.0 238.5h0M197.5 238.5h0M197.6 238.8h0M197.7 238.7h0M198.9 238.5h0M201.1 238.3h0M202.6 238.7h0M203.2 238.8h0M203.9 238.7h0M203.4 239.0h0M204.2 238.8h0M204.6 238.4h0M204.3 238.2h0M204.2 238.5h0M205.3 238.1h0M206.8 238.7h0M208.5 238.9h0M208.3 238.2h0M197.4 239.6h0M198.0 239.3h0M198.3 239.3h0M199.7 239.8h0M199.3 239.6h0M199.8 239.1h0M201.5 239.7h0M201.8 239.4h0M202.9 239.2h0M205.7 239.4h0M206.8 239.7h0M206.2 239.3h0M209.6 240.0h0M211.8 239.2h0M211.3 239.4h0M157.5 240.6h0M196.7 240.7h0M200.9 240.4h0M202.5 240.8h0M203.7 240.1h0M204.5 240.9h0M204.3 240.4h0M205.1 240.4h0M205.2 240.1h0M205.1 240.7h0M206.1 240.3h0M209.4 240.9h0M210.8 240.1h0M210.8 240.3h0M210.4 240.6h0M212.0 241.0h0M193.8 241.9h0M195.7 241.8h0M195.9 241.6h0M195.3 241.8h0M196.2 241.6h0M198.8 241.1h0M199.7 241.1h0M203.0 241.1h0M203.1 241.5h0M203.7 241.9h0M203.2 241.4h0M204.8 241.2h0M205.1 241.9h0M206.0 241.5h0M207.3 241.6h0M208.0 241.3h0M208.7 242.0h0M209.1 242.0h0M209.7 241.4h0M209.9 241.9h0M209.6 241.9h0M210.4 241.9h0M213.0 241.4h0M213.7 241.5h0M165.9 242.3h0M203.7 242.4h0M203.2 242.3h0M203.6 242.2h0M203.9 242.7h0M203.2 242.3h0M205.5 242.8h0M206.8 242.9h0M207.5 242.8h0M209.0 243.0h0M208.3 242.3h0M209.8 242.2h0M209.9 242.7h0M209.7 242.5h0M214.1 242.6h0M198.3 243.5h0M200.9 243.0h0M200.0 243.7h0M202.0 243.2h0M202.7 243.8h0M204.9 243.7h0M204.7 243.4h0M205.6 243.8h0M206.8 243.6h0M206.7 243.7h0M207.4 243.3h0M208.2 243.6h0M208.2 243.6h0M208.5 243.7h0M209.5 243.7h0M212.2 243.3h0M212.6 243.7h0M227.7 243.9h0M202.5 244.8h0M206.0 244.0h0M205.9 244.3h0M205.0 244.5h0M206.1 244.9h0M207.5 244.4h0M207.5 245.0h0M208.0 244.7h0M209.0 244.9h0M210.3 244.5h0M211.7 244.4h0M212.5 244.5h0M212.8 244.6h0M212.5 244.8h0M215.9 244.4h0M226.9 244.3h0M203.3 245.7h0M204.8 245.3h0M205.5 245.2h0M205.1 245.5h0M207.6 245.6h0M208.9 245.9h0M211.0 245.2h0M212.2 245.4h0M212.5 245.3h0M212.2 245.2h0M213.0 245.2h0M215.9 245.8h0M222.4 245.2h0M203.3 246.4h0M207.0 246.1h0M208.7 246.7h0M209.0 246.0h0M209.9 246.7h0M210.5 246.8h0M210.7 246.2h0M210.0 246.4h0M211.8 246.5h0M211.0 246.8h0M211.6 246.8h0M212.5 246.5h0M212.6 246.6h0M212.7 246.5h0M212.3 246.9h0M212.2 247.0h0M214.1 246.8h0M216.1 247.0h0M223.9 246.6h0M203.8 247.2h0M206.7 247.3h0M206.3 247.9h0M208.6 247.8h0M209.8 248.0h0M212.0 247.4h0M212.5 247.4h0M215.8 247.6h0M216.7 247.8h0M223.8 247.1h0M226.8 247.5h0M163.4 248.0h0M201.7 248.5h0M204.3 248.5h0M206.5 248.7h0M207.4 248.6h0M211.2 248.4h0M211.2 248.3h0M212.8 248.2h0M213.3 248.5h0M224.5 248.1h0M227.2 248.8h0M204.3 249.1h0M206.7 249.4h0M208.8 249.5h0M208.7 249.7h0M209.2 249.6h0M209.5 249.7h0M211.0 249.3h0M212.1 249.8h0M213.4 249.8h0M214.2 249.5h0M214.3 249.3h0M215.0 249.5h0M216.7 249.4h0M217.4 249.5h0M220.2 249.6h0M197.0 250.8h0M209.9 250.8h0M209.3 250.7h0M210.4 250.8h0M212.0 250.8h0M213.3 250.7h0M213.6 250.1h0M215.2 250.8h0M216.6 250.7h0M218.0 250.9h0M218.2 250.9h0M219.1 250.7h0M220.0 250.2h0M224.4 250.6h0M204.9 251.7h0M206.3 251.9h0M207.5 251.3h0M212.1 251.2h0M212.2 251.6h0M213.9 251.4h0M214.0 251.1h0M215.0 251.1h0M215.7 252.0h0M215.2 251.5h0M216.4 251.2h0M216.5 251.2h0M217.8 251.6h0M217.7 251.9h0M222.0 251.1h0M229.2 251.5h0M171.6 252.3h0M202.2 252.0h0M209.2 252.8h0M210.3 252.0h0M214.9 252.6h0M218.1 252.0h0M218.1 252.7h0M221.5 252.2h0M224.4 252.4h0M235.9 252.9h0M210.9 253.4h0M210.4 253.5h0M211.5 253.5h0M214.5 253.5h0M215.2 253.4h0M215.0 253.3h0M215.7 253.9h0M216.6 253.8h0M217.7 253.2h0M218.4 253.3h0M219.1 253.4h0M220.0 253.3h0M222.2 253.4h0M236.9 253.1h0M208.0 254.4h0M215.4 254.2h0M216.8 254.1h0M217.5 254.6h0M218.2 254.8h0M218.5 254.4h0M219.1 254.1h0M220.7 254.6h0M225.0 254.8h0M232.2 254.6h0M213.4 255.5h0M215.8 255.2h0M216.9 255.8h0M217.0 255.8h0M217.4 255.9h0M217.2 255.0h0M217.7 255.1h0M220.5 255.7h0M202.2 256.5h0M208.4 256.6h0M209.0 256.3h0M211.4 256.5h0M212.1 256.1h0M213.8 256.0h0M215.6 256.9h0M217.9 256.7h0M222.8 256.6h0M223.1 256.6h0M230.9 256.6h0M240.9 256.5h0M242.9 256.4h0M177.2 257.8h0M208.5 257.1h0M209.8 257.3h0M213.1 257.9h0M214.1 257.2h0M215.5 257.4h0M218.5 257.0h0M219.3 257.7h0M221.6 257.9h0M224.4 257.3h0M224.2 257.6h0M229.3 257.7h0M239.1 257.7h0M198.3 258.5h0M202.4 258.7h0M204.8 258.9h0M215.0 258.1h0M215.7 258.7h0M220.3 258.0h0M221.0 258.1h0M227.9 258.4h0M236.3 258.1h0M238.1 258.5h0M245.0 258.1h0M208.9 259.7h0M210.9 259.8h0M211.8 259.6h0M216.9 259.8h0M218.8 259.5h0M218.5 259.4h0M221.9 259.4h0M224.1 259.2h0M227.5 259.1h0M228.9 259.2h0M241.6 259.5h0M198.5 260.7h0M211.2 260.9h0M216.8 260.1h0M218.5 261.0h0M220.4 260.9h0M223.1 260.4h0M225.1 260.2h0M225.3 260.0h0M236.5 260.1h0M211.0 261.5h0M221.5 261.0h0M222.9 261.5h0M224.1 261.6h0M226.3 261.6h0M227.9 261.5h0M232.1 261.9h0M241.5 261.8h0M195.0 262.0h0M205.8 262.7h0M208.7 262.5h0M224.0 262.0h0M209.4 263.5h0M223.5 263.6h0M227.7 263.3h0M229.1 263.3h0M229.2 263.8h0M232.0 263.9h0M233.0 263.0h0M236.4 263.8h0M206.3 264.4h0M212.6 264.9h0M215.8 264.7h0M224.3 264.3h0M217.3 265.3h0M217.8 265.1h0M224.0 265.5h0M226.4 265.9h0M228.4 265.7h0M232.2 265.4h0M240.1 265.9h0M242.8 265.1h0M243.6 265.2h0M213.4 266.7h0M219.3 266.0h0M223.3 266.5h0M228.0 266.3h0M227.9 266.4h0M229.0 266.1h0M230.6 266.9h0M236.4 266.4h0M237.5 266.2h0M213.1 267.5h0M216.4 267.2h0M217.4 267.0h0M218.6 267.4h0M219.4 267.0h0M226.3 267.9h0M229.5 267.3h0M234.4 267.4h0M234.2 267.8h0M235.9 267.3h0M236.1 267.6h0M217.0 268.3h0M221.5 268.4h0M222.6 268.1h0M223.3 268.3h0M228.2 268.4h0M229.7 268.5h0M231.8 268.3h0M232.0 268.7h0M243.2 268.8h0M206.7 269.9h0M208.8 269.4h0M217.5 269.9h0M219.5 269.7h0M220.9 269.6h0M220.2 269.7h0M221.3 269.3h0M223.4 269.8h0M227.8 269.0h0M228.8 269.1h0M228.1 269.6h0M231.5 269.9h0M235.1 269.3h0M249.8 269.9h0M210.3 270.0h0M222.6 270.6h0M226.7 270.1h0M230.3 270.6h0M237.2 270.5h0M239.9 270.4h0M241.9 270.5h0M90.5 271.5h0M211.2 271.6h0M213.0 271.3h0M213.3 271.5h0M213.1 271.1h0M215.4 271.7h0M223.0 272.0h0M226.6 271.3h0M236.1 271.2h0M244.9 271.3h0M92.5 272.9h0M219.9 272.7h0M221.4 272.1h0M225.7 272.3h0M227.0 272.1h0M211.0 273.4h0M221.4 273.1h0M228.5 273.9h0M232.9 273.8h0M233.1 274.0h0M237.0 273.5h0M94.7 274.1h0M222.6 274.6h0M222.5 274.7h0M232.0 274.6h0M235.2 274.4h0M236.8 274.4h0M236.8 274.6h0M237.3 274.7h0M238.4 274.6h0M90.9 275.3h0M212.6 275.3h0M213.0 276.0h0M221.9 275.2h0M222.0 275.6h0M228.4 275.4h0M236.1 275.0h0M239.6 275.7h0M240.6 276.0h0M242.7 275.4h0M246.9 276.0h0M249.2 275.8h0M213.8 276.8h0M220.8 276.2h0M223.3 276.5h0M228.4 277.0h0M235.0 276.1h0M237.3 276.9h0M238.2 276.7h0M241.9 276.6h0M253.6 276.8h0M95.5 277.4h0M223.3 277.7h0M227.1 277.5h0M240.6 277.7h0M240.7 278.0h0M243.9 277.8h0M243.1 277.8h0M250.1 277.3h0M97.0 278.0h0M96.9 278.1h0M230.3 278.1h0M232.2 278.5h0M238.8 278.8h0M242.9 278.4h0M244.3 278.6h0M248.2 278.5h0M211.1 279.3h0M222.9 279.4h0M227.9 279.0h0M240.7 279.7h0M241.6 279.4h0M251.0 279.9h0M251.1 279.6h0M93.2 280.1h0M232.0 280.0h0M233.5 280.6h0M242.4 280.9h0M243.9 280.3h0M228.8 281.8h0M230.2 281.1h0M230.8 281.3h0M232.0 281.4h0M243.9 281.2h0M99.4 282.8h0M233.7 282.7h0M237.0 282.6h0M240.5 282.8h0M223.7 283.8h0M224.1 283.3h0M230.2 284.0h0M236.0 283.3h0M241.8 283.7h0M93.4 284.1h0M250.7 284.3h0M254.0 284.5h0M102.5 285.4h0M228.8 285.4h0M233.1 285.5h0M237.2 285.3h0M238.7 285.9h0M242.6 285.1h0M244.6 285.1h0M244.5 286.1h0M246.6 286.1h0M246.1 286.1h0M251.8 286.0h0M233.5 287.4h0M241.5 287.4h0M246.6 287.5h0M238.1 288.3h0M246.2 289.0h0M249.0 289.7h0M239.8 290.3h0M240.2 291.0h0" stroke="#c9c9c9" stroke-width="1.5" stroke-linecap="round" fill="none"/>
<polygon points="142.80,159.35 143.78,162.36 146.94,162.36 144.38,164.21 145.36,167.22 142.80,165.36 140.24,167.22 141.22,164.21 138.66,162.36 141.82,162.36" fill="#fde725" stroke="#fde725" stroke-width="0.6"/><polygon points="145.30,162.45 146.28,165.46 149.44,165.46 146.88,167.31 147.86,170.32 145.30,168.46 142.74,170.32 143.72,167.31 141.16,165.46 144.32,165.46" fill="#fde725" stroke="#fde725" stroke-width="0.6"/><polygon points="143.40,165.55 144.38,168.56 147.54,168.56 144.98,170.41 145.96,173.42 143.40,171.56 140.84,173.42 141.82,170.41 139.26,168.56 142.42,168.56" fill="#fde725" stroke="#fde725" stroke-width="0.6"/><polygon points="112.20,115.45 113.18,118.46 116.34,118.46 113.78,120.31 114.76,123.32 112.20,121.46 109.64,123.32 110.62,120.31 108.06,118.46 111.22,118.46" fill="#fde725" stroke="#fde725" stroke-width="0.6"/><polygon points="157.10,102.05 158.08,105.06 161.24,105.06 158.68,106.91 159.66,109.92 157.10,108.06 154.54,109.92 155.52,106.91 152.96,105.06 156.12,105.06" fill="#433a8a" stroke="#433a8a" stroke-width="0.6"/><polygon points="133.70,120.35 134.68,123.36 137.84,123.36 135.28,125.21 136.26,128.22 133.70,126.36 131.14,128.22 132.12,125.21 129.56,123.36 132.72,123.36" fill="#21918c" stroke="#21918c" stroke-width="0.6"/><polygon points="139.60,122.35 140.58,125.36 143.74,125.36 141.18,127.21 142.16,130.22 139.60,128.36 137.04,130.22 138.02,127.21 135.46,125.36 138.62,125.36" fill="#433a8a" stroke="#433a8a" stroke-width="0.6"/><polygon points="122.50,126.25 123.48,129.26 126.64,129.26 124.08,131.11 125.06,134.12 122.50,132.26 119.94,134.12 120.92,131.11 118.36,129.26 121.52,129.26" fill="#90d743" stroke="#90d743" stroke-width="0.6"/><polygon points="134.30,127.25 135.28,130.26 138.44,130.26 135.88,132.11 136.86,135.12 134.30,133.26 131.74,135.12 132.72,132.11 130.16,130.26 133.32,130.26" fill="#fde725" stroke="#fde725" stroke-width="0.6"/><polygon points="129.40,130.15 130.38,133.16 133.54,133.16 130.98,135.01 131.96,138.02 129.40,136.16 126.84,138.02 127.82,135.01 125.26,133.16 128.42,133.16" fill="#21918c" stroke="#21918c" stroke-width="0.6"/><polygon points="138.20,133.15 139.18,136.16 142.34,136.16 139.78,138.01 140.76,141.02 138.20,139.16 135.64,141.02 136.62,138.01 134.06,136.16 137.22,136.16" fill="#fde725" stroke="#fde725" stroke-width="0.6"/><polygon points="108.20,132.15 109.18,135.16 112.34,135.16 109.78,137.01 110.76,140.02 108.20,138.16 105.64,140.02 106.62,137.01 104.06,135.16 107.22,135.16" fill="#433a8a" stroke="#433a8a" stroke-width="0.6"/><polygon points="118.20,131.25 119.18,134.26 122.34,134.26 119.78,136.11 120.76,139.12 118.20,137.26 115.64,139.12 116.62,136.11 114.06,134.26 117.22,134.26" fill="#fde725" stroke="#fde725" stroke-width="0.6"/><polygon points="116.70,133.15 117.68,136.16 120.84,136.16 118.28,138.01 119.26,141.02 116.70,139.16 114.14,141.02 115.12,138.01 112.56,136.16 115.72,136.16" fill="#440154" stroke="#440154" stroke-width="0.6"/><polygon points="119.60,137.05 120.58,140.06 123.74,140.06 121.18,141.91 122.16,144.92 119.60,143.06 117.04,144.92 118.02,141.91 115.46,140.06 118.62,140.06" fill="#440154" stroke="#440154" stroke-width="0.6"/><polygon points="121.60,139.05 122.58,142.06 125.74,142.06 123.18,143.91 124.16,146.92 121.60,145.06 119.04,146.92 120.02,143.91 117.46,142.06 120.62,142.06" fill="#440154" stroke="#440154" stroke-width="0.6"/><polygon points="129.60,136.65 130.58,139.66 133.74,139.66 131.18,141.51 132.16,144.52 129.60,142.66 127.04,144.52 128.02,141.51 125.46,139.66 128.62,139.66" fill="#433a8a" stroke="#433a8a" stroke-width="0.6"/><polygon points="142.70,138.75 143.68,141.76 146.84,141.76 144.28,143.61 145.26,146.62 142.70,144.76 140.14,146.62 141.12,143.61 138.56,141.76 141.72,141.76" fill="#433a8a" stroke="#433a8a" stroke-width="0.6"/><polygon points="124.00,142.75 124.98,145.76 128.14,145.76 125.58,147.61 126.56,150.62 124.00,148.76 121.44,150.62 122.42,147.61 119.86,145.76 123.02,145.76" fill="#fde725" stroke="#fde725" stroke-width="0.6"/><polygon points="136.10,141.75 137.08,144.76 140.24,144.76 137.68,146.61 138.66,149.62 136.10,147.76 133.54,149.62 134.52,146.61 131.96,144.76 135.12,144.76" fill="#21918c" stroke="#21918c" stroke-width="0.6"/><polygon points="148.70,143.75 149.68,146.76 152.84,146.76 150.28,148.61 151.26,151.62 148.70,149.76 146.14,151.62 147.12,148.61 144.56,146.76 147.72,146.76" fill="#440154" stroke="#440154" stroke-width="0.6"/><polygon points="142.70,144.75 143.68,147.76 146.84,147.76 144.28,149.61 145.26,152.62 142.70,150.76 140.14,152.62 141.12,149.61 138.56,147.76 141.72,147.76" fill="#440154" stroke="#440154" stroke-width="0.6"/><polygon points="135.10,148.25 136.08,151.26 139.24,151.26 136.68,153.11 137.66,156.12 135.10,154.26 132.54,156.12 133.52,153.11 130.96,151.26 134.12,151.26" fill="#440154" stroke="#440154" stroke-width="0.6"/><polygon points="131.10,151.35 132.08,154.36 135.24,154.36 132.68,156.21 133.66,159.22 131.10,157.36 128.54,159.22 129.52,156.21 126.96,154.36 130.12,154.36" fill="#440154" stroke="#440154" stroke-width="0.6"/><polygon points="144.70,150.85 145.68,153.86 148.84,153.86 146.28,155.71 147.26,158.72 144.70,156.86 142.14,158.72 143.12,155.71 140.56,153.86 143.72,153.86" fill="#440154" stroke="#440154" stroke-width="0.6"/><polygon points="128.50,148.15 129.48,151.16 132.64,151.16 130.08,153.01 131.06,156.02 128.50,154.16 125.94,156.02 126.92,153.01 124.36,151.16 127.52,151.16" fill="#440154" stroke="#440154" stroke-width="0.6"/><polygon points="133.00,153.15 133.98,156.16 137.14,156.16 134.58,158.01 135.56,161.02 133.00,159.16 130.44,161.02 131.42,158.01 128.86,156.16 132.02,156.16" fill="#440154" stroke="#440154" stroke-width="0.6"/><polygon points="146.00,147.65 146.98,150.66 150.14,150.66 147.58,152.51 148.56,155.52 146.00,153.66 143.44,155.52 144.42,152.51 141.86,150.66 145.02,150.66" fill="#440154" stroke="#440154" stroke-width="0.6"/><polygon points="150.50,148.65 151.48,151.66 154.64,151.66 152.08,153.51 153.06,156.52 150.50,154.66 147.94,156.52 148.92,153.51 146.36,151.66 149.52,151.66" fill="#440154" stroke="#440154" stroke-width="0.6"/><polygon points="146.00,153.65 146.98,156.66 150.14,156.66 147.58,158.51 148.56,161.52 146.00,159.66 143.44,161.52 144.42,158.51 141.86,156.66 145.02,156.66" fill="#440154" stroke="#440154" stroke-width="0.6"/><polygon points="138.60,152.35 139.58,155.36 142.74,155.36 140.18,157.21 141.16,160.22 138.60,158.36 136.04,160.22 137.02,157.21 134.46,155.36 137.62,155.36" fill="#31688e" stroke="#31688e" stroke-width="0.6"/><polygon points="141.70,155.35 142.68,158.36 145.84,158.36 143.28,160.21 144.26,163.22 141.70,161.36 139.14,163.22 140.12,160.21 137.56,158.36 140.72,158.36" fill="#fde725" stroke="#fde725" stroke-width="0.6"/><polygon points="132.60,156.85 133.58,159.86 136.74,159.86 134.18,161.71 135.16,164.72 132.60,162.86 130.04,164.72 131.02,161.71 128.46,159.86 131.62,159.86" fill="#fde725" stroke="#fde725" stroke-width="0.6"/><polygon points="136.90,158.65 137.88,161.66 141.04,161.66 138.48,163.51 139.46,166.52 136.90,164.66 134.34,166.52 135.32,163.51 132.76,161.66 135.92,161.66" fill="#440154" stroke="#440154" stroke-width="0.6"/><polygon points="161.80,154.35 162.78,157.36 165.94,157.36 163.38,159.21 164.36,162.22 161.80,160.36 159.24,162.22 160.22,159.21 157.66,157.36 160.82,157.36" fill="#fde725" stroke="#fde725" stroke-width="0.6"/><polygon points="131.70,157.45 132.68,160.46 135.84,160.46 133.28,162.31 134.26,165.32 131.70,163.46 129.14,165.32 130.12,162.31 127.56,160.46 130.72,160.46" fill="#fde725" stroke="#fde725" stroke-width="0.6"/><polygon points="134.80,161.85 135.78,164.86 138.94,164.86 136.38,166.71 137.36,169.72 134.80,167.86 132.24,169.72 133.22,166.71 130.66,164.86 133.82,164.86" fill="#440154" stroke="#440154" stroke-width="0.6"/><polygon points="139.10,163.85 140.08,166.86 143.24,166.86 140.68,168.71 141.66,171.72 139.10,169.86 136.54,171.72 137.52,168.71 134.96,166.86 138.12,166.86" fill="#440154" stroke="#440154" stroke-width="0.6"/><polygon points="140.30,170.45 141.28,173.46 144.44,173.46 141.88,175.31 142.86,178.32 140.30,176.46 137.74,178.32 138.72,175.31 136.16,173.46 139.32,173.46" fill="#433a8a" stroke="#433a8a" stroke-width="0.6"/><polygon points="144.00,172.95 144.98,175.96 148.14,175.96 145.58,177.81 146.56,180.82 144.00,178.96 141.44,180.82 142.42,177.81 139.86,175.96 143.02,175.96" fill="#433a8a" stroke="#433a8a" stroke-width="0.6"/><polygon points="145.30,175.95 146.28,178.96 149.44,178.96 146.88,180.81 147.86,183.82 145.30,181.96 142.74,183.82 143.72,180.81 141.16,178.96 144.32,178.96" fill="#433a8a" stroke="#433a8a" stroke-width="0.6"/><polygon points="147.70,179.65 148.68,182.66 151.84,182.66 149.28,184.51 150.26,187.52 147.70,185.66 145.14,187.52 146.12,184.51 143.56,182.66 146.72,182.66" fill="#440154" stroke="#440154" stroke-width="0.6"/><polygon points="149.00,184.05 149.98,187.06 153.14,187.06 150.58,188.91 151.56,191.92 149.00,190.06 146.44,191.92 147.42,188.91 144.86,187.06 148.02,187.06" fill="#440154" stroke="#440154" stroke-width="0.6"/><polygon points="154.50,180.95 155.48,183.96 158.64,183.96 156.08,185.81 157.06,188.82 154.50,186.96 151.94,188.82 152.92,185.81 150.36,183.96 153.52,183.96" fill="#31688e" stroke="#31688e" stroke-width="0.6"/><polygon points="158.20,185.85 159.18,188.86 162.34,188.86 159.78,190.71 160.76,193.72 158.20,191.86 155.64,193.72 156.62,190.71 154.06,188.86 157.22,188.86" fill="#433a8a" stroke="#433a8a" stroke-width="0.6"/><polygon points="152.80,192.25 153.78,195.26 156.94,195.26 154.38,197.11 155.36,200.12 152.80,198.26 150.24,200.12 151.22,197.11 148.66,195.26 151.82,195.26" fill="#35b779" stroke="#35b779" stroke-width="0.6"/><polygon points="147.70,195.15 148.68,198.16 151.84,198.16 149.28,200.01 150.26,203.02 147.70,201.16 145.14,203.02 146.12,200.01 143.56,198.16 146.72,198.16" fill="#440154" stroke="#440154" stroke-width="0.6"/><polygon points="154.30,194.55 155.28,197.56 158.44,197.56 155.88,199.41 156.86,202.42 154.30,200.56 151.74,202.42 152.72,199.41 150.16,197.56 153.32,197.56" fill="#fde725" stroke="#fde725" stroke-width="0.6"/><polygon points="161.30,198.45 162.28,201.46 165.44,201.46 162.88,203.31 163.86,206.32 161.30,204.46 158.74,206.32 159.72,203.31 157.16,201.46 160.32,201.46" fill="#31688e" stroke="#31688e" stroke-width="0.6"/><polygon points="166.00,201.35 166.98,204.36 170.14,204.36 167.58,206.21 168.56,209.22 166.00,207.36 163.44,209.22 164.42,206.21 161.86,204.36 165.02,204.36" fill="#433a8a" stroke="#433a8a" stroke-width="0.6"/><polygon points="168.40,206.95 169.38,209.96 172.54,209.96 169.98,211.81 170.96,214.82 168.40,212.96 165.84,214.82 166.82,211.81 164.26,209.96 167.42,209.96" fill="#433a8a" stroke="#433a8a" stroke-width="0.6"/><polygon points="193.60,208.15 194.58,211.16 197.74,211.16 195.18,213.01 196.16,216.02 193.60,214.16 191.04,216.02 192.02,213.01 189.46,211.16 192.62,211.16" fill="#31608f" stroke="#31608f" stroke-width="0.6"/><polygon points="205.70,239.05 206.68,242.06 209.84,242.06 207.28,243.91 208.26,246.92 205.70,245.06 203.14,246.92 204.12,243.91 201.56,242.06 204.72,242.06" fill="#440154" stroke="#440154" stroke-width="0.6"/><polygon points="230.00,275.05 230.98,278.06 234.14,278.06 231.58,279.91 232.56,282.92 230.00,281.06 227.44,282.92 228.42,279.91 225.86,278.06 229.02,278.06" fill="#2a788e" stroke="#2a788e" stroke-width="0.6"/>
<rect x="56.1" y="20.9" width="290.7" height="324.0" fill="none" stroke="#000" stroke-width="1.45"/>
<line x1="52.6" y1="27.15" x2="56.1" y2="27.15" stroke="#000" stroke-width="1.1"/><line x1="18.6" y1="28.65" x2="28.6" y2="28.65" stroke="#000" stroke-width="0.95"/><text x="49.0" y="32.85" font-size="16.0" text-anchor="end" >5.0</text><line x1="52.6" y1="66.83" x2="56.1" y2="66.83" stroke="#000" stroke-width="1.1"/><line x1="18.6" y1="68.33" x2="28.6" y2="68.33" stroke="#000" stroke-width="0.95"/><text x="49.0" y="72.53" font-size="16.0" text-anchor="end" >2.5</text><line x1="52.6" y1="106.50" x2="56.1" y2="106.50" stroke="#000" stroke-width="1.1"/><text x="49.0" y="112.20" font-size="16.0" text-anchor="end" >0.0</text><line x1="52.6" y1="146.18" x2="56.1" y2="146.18" stroke="#000" stroke-width="1.1"/><text x="49.0" y="151.88" font-size="16.0" text-anchor="end" >2.5</text><line x1="52.6" y1="185.85" x2="56.1" y2="185.85" stroke="#000" stroke-width="1.1"/><text x="49.0" y="191.55" font-size="16.0" text-anchor="end" >5.0</text><line x1="52.6" y1="225.52" x2="56.1" y2="225.52" stroke="#000" stroke-width="1.1"/><text x="49.0" y="231.22" font-size="16.0" text-anchor="end" >7.5</text><line x1="52.6" y1="265.20" x2="56.1" y2="265.20" stroke="#000" stroke-width="1.1"/><text x="49.0" y="270.90" font-size="16.0" text-anchor="end" >10.0</text><line x1="52.6" y1="304.88" x2="56.1" y2="304.88" stroke="#000" stroke-width="1.1"/><text x="49.0" y="310.57" font-size="16.0" text-anchor="end" >12.5</text><line x1="52.6" y1="344.55" x2="56.1" y2="344.55" stroke="#000" stroke-width="1.1"/><text x="49.0" y="350.25" font-size="16.0" text-anchor="end" >15.0</text><line x1="56.02" y1="344.9" x2="56.02" y2="348.4" stroke="#000" stroke-width="1.1"/><line x1="46.3" y1="358.1" x2="56.1" y2="358.1" stroke="#000" stroke-width="0.95"/><text x="61.0" y="362.0" font-size="16.3" text-anchor="middle" >1</text><line x1="104.50" y1="344.9" x2="104.50" y2="348.4" stroke="#000" stroke-width="1.1"/><text x="104.5" y="362.0" font-size="16.3" text-anchor="middle" >0</text><line x1="152.97" y1="344.9" x2="152.97" y2="348.4" stroke="#000" stroke-width="1.1"/><text x="152.975" y="362.0" font-size="16.3" text-anchor="middle" >1</text><line x1="201.45" y1="344.9" x2="201.45" y2="348.4" stroke="#000" stroke-width="1.1"/><text x="201.45" y="362.0" font-size="16.3" text-anchor="middle" >2</text><line x1="249.93" y1="344.9" x2="249.93" y2="348.4" stroke="#000" stroke-width="1.1"/><text x="249.925" y="362.0" font-size="16.3" text-anchor="middle" >3</text><line x1="298.40" y1="344.9" x2="298.40" y2="348.4" stroke="#000" stroke-width="1.1"/><text x="298.4" y="362.0" font-size="16.3" text-anchor="middle" >4</text><line x1="346.88" y1="344.9" x2="346.88" y2="348.4" stroke="#000" stroke-width="1.1"/><text x="346.875" y="362.0" font-size="16.3" text-anchor="middle" >5</text><line x1="74.8" y1="20.9" x2="74.8" y2="17.4" stroke="#000" stroke-width="1.1"/><text x="75.1" y="11.9" font-size="14.2" text-anchor="middle" letter-spacing="0.6">30000</text><line x1="126.6" y1="20.9" x2="126.6" y2="17.4" stroke="#000" stroke-width="1.1"/><text x="126.89999999999999" y="11.9" font-size="14.2" text-anchor="middle" letter-spacing="0.6">7000</text><line x1="157.5" y1="20.9" x2="157.5" y2="17.4" stroke="#000" stroke-width="1.1"/><text x="157.8" y="11.9" font-size="14.2" text-anchor="middle" letter-spacing="0.6">5000</text><line x1="187.3" y1="20.9" x2="187.3" y2="17.4" stroke="#000" stroke-width="1.1"/><text x="187.60000000000002" y="11.9" font-size="14.2" text-anchor="middle" letter-spacing="0.6">4000</text><line x1="246.1" y1="20.9" x2="246.1" y2="17.4" stroke="#000" stroke-width="1.1"/><text x="246.4" y="11.9" font-size="14.2" text-anchor="middle" letter-spacing="0.6">3000</text><line x1="69.1" y1="28.6" x2="72.6" y2="28.6" stroke="#747474" stroke-width="1.45"/><line x1="76.1" y1="28.6" x2="104.5" y2="28.6" stroke="#747474" stroke-width="1.45"/><line x1="106.5" y1="28.6" x2="120.9" y2="28.6" stroke="#747474" stroke-width="1.45"/><line x1="123.5" y1="28.6" x2="137.7" y2="28.6" stroke="#747474" stroke-width="1.45"/><line x1="140.3" y1="28.6" x2="155.3" y2="28.6" stroke="#747474" stroke-width="1.45"/><line x1="158.8" y1="28.6" x2="209.4" y2="28.6" stroke="#747474" stroke-width="1.45"/><line x1="212.2" y1="28.6" x2="308.4" y2="28.6" stroke="#747474" stroke-width="1.45"/><text x="71.2" y="41.6" font-size="15.4" text-anchor="middle" >O</text><text x="87" y="41.6" font-size="15.4" text-anchor="middle" >B</text><text x="112.8" y="41.6" font-size="15.4" text-anchor="middle" >A</text><text x="133.6" y="41.6" font-size="15.4" text-anchor="middle" >F</text><text x="147.9" y="41.6" font-size="15.4" text-anchor="middle" >G</text><text x="183.6" y="41.6" font-size="15.4" text-anchor="middle" >K</text><text x="252.6" y="41.6" font-size="15.4" text-anchor="middle" >M</text><text x="269.5" y="16.4" font-size="12" text-anchor="start" letter-spacing="0.45" class="sm">Temperature (K)</text><text x="269.5" y="40.8" font-size="12" text-anchor="start" letter-spacing="0.35" class="sm">Spectral type</text>
<rect x="201.4" y="287.1" width="137.6" height="49.7" rx="2.2" fill="#fff" fill-opacity="0.85" stroke="#d6d6d6" stroke-width="1"/>
<circle cx="223.7" cy="300.5" r="0.8" fill="#c9c9c9"/>
<polygon points="223.80,319.50 224.77,322.47 227.89,322.47 225.36,324.31 226.33,327.28 223.80,325.44 221.27,327.28 222.24,324.31 219.71,322.47 222.83,322.47" fill="#1f77b4" stroke="#1f77b4" stroke-width="0.6"/>
<text x="252.6" y="304.6" font-size="16.5">HGCA stars</text>
<text x="252.6" y="327.1" font-size="16.5">Targets</text>
<defs><linearGradient id="vir" x1="0" x2="1" y1="0" y2="0">
<stop offset="0" stop-color="#440154"/><stop offset="0.1" stop-color="#482475"/><stop offset="0.2" stop-color="#414487"/>
<stop offset="0.3" stop-color="#355f8d"/><stop offset="0.4" stop-color="#2a788e"/><stop offset="0.5" stop-color="#21918c"/>
<stop offset="0.6" stop-color="#22a884"/><stop offset="0.7" stop-color="#44bf70"/><stop offset="0.8" stop-color="#7ad151"/>
<stop offset="0.9" stop-color="#bddf26"/><stop offset="1" stop-color="#fde725"/></linearGradient></defs>
<rect x="82.4" y="295" width="87.6" height="9.6" fill="url(#vir)" stroke="#000" stroke-width="0.8"/>
<g stroke="#000" stroke-width="0.8">
<line x1="82.4" y1="304.6" x2="82.4" y2="307.3"/><line x1="105.1" y1="304.6" x2="105.1" y2="307.3"/>
<line x1="137.6" y1="304.6" x2="137.6" y2="307.3"/><line x1="170" y1="304.6" x2="170" y2="307.3"/></g>
<g font-size="11.2" class="sm">
<text x="82.4" y="318.7" text-anchor="middle">3</text>
<text x="104.6" y="318.7" text-anchor="middle">10</text>
<text x="137.4" y="318.7" text-anchor="middle">20</text>
<text x="156.5" y="318.7">&gt;</text>
<text x="174.6" y="318.7" text-anchor="middle">30</text>
</g>
<text x="61" y="334" font-size="14.6">Gaia Accleration SNR</text>
<text transform="translate(11.9,195.6) rotate(-90)" font-size="17.5" font-style="italic">M<tspan font-size="12.5" dy="3.2">G</tspan></text>
<g font-style="italic">
<text x="163.6" y="379.6" font-size="17">G</text>
<text x="176.6" y="382.3" font-size="12.5">Bp</text>
<text x="200.5" y="379.6" font-size="17" font-style="normal" text-anchor="middle">−</text>
<text x="207.4" y="379.6" font-size="17">G</text>
<text x="221.6" y="382.3" font-size="13" letter-spacing="1.2">Rp</text>
</g>
</svg>
</body></html>
